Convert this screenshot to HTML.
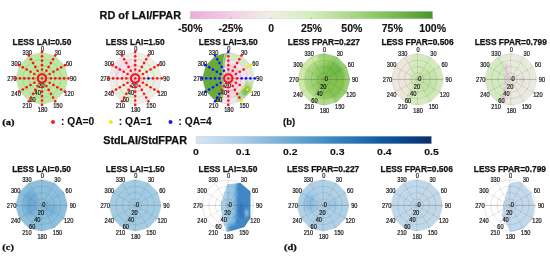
<!DOCTYPE html><html><head><meta charset="utf-8"><style>html,body{margin:0;padding:0;background:#fff;width:550px;height:256px;overflow:hidden}svg{display:block;filter:blur(0.3px)}</style></head><body><svg width="550" height="256" viewBox="0 0 550 256"><defs><filter id="b05" x="-50%" y="-50%" width="200%" height="200%"><feGaussianBlur stdDeviation="0.5"/></filter><filter id="b1" x="-50%" y="-50%" width="200%" height="200%"><feGaussianBlur stdDeviation="1.0"/></filter><filter id="b15" x="-50%" y="-50%" width="200%" height="200%"><feGaussianBlur stdDeviation="1.5"/></filter><filter id="b2" x="-50%" y="-50%" width="200%" height="200%"><feGaussianBlur stdDeviation="2.0"/></filter><filter id="b3" x="-50%" y="-50%" width="200%" height="200%"><feGaussianBlur stdDeviation="3.0"/></filter><linearGradient id="cb1" x1="0" x2="1" y1="0" y2="0"><stop offset="0" stop-color="#eeacd8"/><stop offset="0.167" stop-color="#f4cce6"/><stop offset="0.333" stop-color="#f0f0e4"/><stop offset="0.5" stop-color="#d4eebc"/><stop offset="0.667" stop-color="#aad886"/><stop offset="0.833" stop-color="#7cbc50"/><stop offset="1" stop-color="#4a9628"/></linearGradient><linearGradient id="cb2" x1="0" x2="1" y1="0" y2="0"><stop offset="0" stop-color="#d6e6f3"/><stop offset="0.2" stop-color="#a9cbe6"/><stop offset="0.4" stop-color="#6aaad6"/><stop offset="0.6" stop-color="#3484c0"/><stop offset="0.8" stop-color="#0c58a0"/><stop offset="1" stop-color="#0a2f6a"/></linearGradient><clipPath id="cp0"><polygon points="42.00,52.50 54.95,55.97 64.43,65.45 67.90,78.40 64.43,91.35 54.95,100.83 42.00,104.30 29.05,100.83 19.57,91.35 16.10,78.40 19.57,65.45 29.05,55.97"/></clipPath><clipPath id="cp1"><polygon points="135.20,52.50 148.15,55.97 157.63,65.45 161.10,78.40 157.63,91.35 148.15,100.83 135.20,104.30 122.25,100.83 112.77,91.35 109.30,78.40 112.77,65.45 122.25,55.97"/></clipPath><clipPath id="cp2"><polygon points="228.30,52.50 241.25,55.97 250.73,65.45 254.20,78.40 250.73,91.35 241.25,100.83 228.30,104.30 215.35,100.83 205.87,91.35 202.40,78.40 205.87,65.45 215.35,55.97"/></clipPath><clipPath id="cp3"><polygon points="323.90,53.50 336.85,56.97 346.33,66.45 349.80,79.40 346.33,92.35 336.85,101.83 323.90,105.30 310.95,101.83 301.47,92.35 298.00,79.40 301.47,66.45 310.95,56.97"/></clipPath><clipPath id="cp4"><polygon points="417.50,53.50 430.45,56.97 439.93,66.45 443.40,79.40 439.93,92.35 430.45,101.83 417.50,105.30 404.55,101.83 395.07,92.35 391.60,79.40 395.07,66.45 404.55,56.97"/></clipPath><clipPath id="cp5"><polygon points="510.80,53.50 523.75,56.97 533.23,66.45 536.70,79.40 533.23,92.35 523.75,101.83 510.80,105.30 497.85,101.83 488.37,92.35 484.90,79.40 488.37,66.45 497.85,56.97"/></clipPath><clipPath id="cp6"><polygon points="41.60,179.50 54.55,182.97 64.03,192.45 67.50,205.40 64.03,218.35 54.55,227.83 41.60,231.30 28.65,227.83 19.17,218.35 15.70,205.40 19.17,192.45 28.65,182.97"/></clipPath><clipPath id="cp7"><polygon points="135.20,179.50 148.15,182.97 157.63,192.45 161.10,205.40 157.63,218.35 148.15,227.83 135.20,231.30 122.25,227.83 112.77,218.35 109.30,205.40 112.77,192.45 122.25,182.97"/></clipPath><clipPath id="cp8"><polygon points="228.00,179.50 240.95,182.97 250.43,192.45 253.90,205.40 250.43,218.35 240.95,227.83 228.00,231.30 215.05,227.83 205.57,218.35 202.10,205.40 205.57,192.45 215.05,182.97"/></clipPath><clipPath id="cp9"><polygon points="323.10,179.50 336.05,182.97 345.53,192.45 349.00,205.40 345.53,218.35 336.05,227.83 323.10,231.30 310.15,227.83 300.67,218.35 297.20,205.40 300.67,192.45 310.15,182.97"/></clipPath><clipPath id="cp10"><polygon points="416.70,179.50 429.65,182.97 439.13,192.45 442.60,205.40 439.13,218.35 429.65,227.83 416.70,231.30 403.75,227.83 394.27,218.35 390.80,205.40 394.27,192.45 403.75,182.97"/></clipPath><clipPath id="cp11"><polygon points="509.90,179.50 522.85,182.97 532.33,192.45 535.80,205.40 532.33,218.35 522.85,227.83 509.90,231.30 496.95,227.83 487.47,218.35 484.00,205.40 487.47,192.45 496.95,182.97"/></clipPath></defs><rect width="550" height="256" fill="#fff"/><text x="99.6" y="18.6" font-size="10.9" font-weight="bold" stroke="#111" stroke-width="0.25" font-family="Liberation Sans, sans-serif" fill="#111">RD of LAI/FPAR</text><rect x="190.3" y="11.3" width="242.3" height="7.5" fill="url(#cb1)" stroke="#c8c8c8" stroke-width="0.3"/><line x1="190.30" y1="18.7" x2="190.30" y2="17.4" stroke="#555" stroke-width="0.4"/><text x="190.30" y="31.7" text-anchor="middle" font-size="10.5" font-weight="bold" stroke="#111" stroke-width="0.12" font-family="Liberation Sans, sans-serif" fill="#111">-50%</text><line x1="230.68" y1="18.7" x2="230.68" y2="17.4" stroke="#555" stroke-width="0.4"/><text x="230.68" y="31.7" text-anchor="middle" font-size="10.5" font-weight="bold" stroke="#111" stroke-width="0.12" font-family="Liberation Sans, sans-serif" fill="#111">-25%</text><line x1="271.07" y1="18.7" x2="271.07" y2="17.4" stroke="#555" stroke-width="0.4"/><text x="271.07" y="31.7" text-anchor="middle" font-size="10.5" font-weight="bold" stroke="#111" stroke-width="0.12" font-family="Liberation Sans, sans-serif" fill="#111">0</text><line x1="311.45" y1="18.7" x2="311.45" y2="17.4" stroke="#555" stroke-width="0.4"/><text x="311.45" y="31.7" text-anchor="middle" font-size="10.5" font-weight="bold" stroke="#111" stroke-width="0.12" font-family="Liberation Sans, sans-serif" fill="#111">25%</text><line x1="351.83" y1="18.7" x2="351.83" y2="17.4" stroke="#555" stroke-width="0.4"/><text x="351.83" y="31.7" text-anchor="middle" font-size="10.5" font-weight="bold" stroke="#111" stroke-width="0.12" font-family="Liberation Sans, sans-serif" fill="#111">50%</text><line x1="392.22" y1="18.7" x2="392.22" y2="17.4" stroke="#555" stroke-width="0.4"/><text x="392.22" y="31.7" text-anchor="middle" font-size="10.5" font-weight="bold" stroke="#111" stroke-width="0.12" font-family="Liberation Sans, sans-serif" fill="#111">75%</text><line x1="432.60" y1="18.7" x2="432.60" y2="17.4" stroke="#555" stroke-width="0.4"/><text x="432.60" y="31.7" text-anchor="middle" font-size="10.5" font-weight="bold" stroke="#111" stroke-width="0.12" font-family="Liberation Sans, sans-serif" fill="#111">100%</text><text x="103.2" y="143.8" font-size="10.8" font-weight="bold" stroke="#111" stroke-width="0.25" font-family="Liberation Sans, sans-serif" fill="#111">StdLAI/StdFPAR</text><rect x="196" y="136.2" width="235.5" height="7.6" fill="url(#cb2)" stroke="#c8c8c8" stroke-width="0.3"/><text x="196.00" y="0" transform="translate(0 155.2) scale(1 0.83)" text-anchor="middle" font-size="10.5" font-weight="bold" stroke="#111" stroke-width="0.12" font-family="Liberation Sans, sans-serif" fill="#111">0</text><text x="243.10" y="0" transform="translate(0 155.2) scale(1 0.83)" text-anchor="middle" font-size="10.5" font-weight="bold" stroke="#111" stroke-width="0.12" font-family="Liberation Sans, sans-serif" fill="#111">0.1</text><text x="290.20" y="0" transform="translate(0 155.2) scale(1 0.83)" text-anchor="middle" font-size="10.5" font-weight="bold" stroke="#111" stroke-width="0.12" font-family="Liberation Sans, sans-serif" fill="#111">0.2</text><text x="337.30" y="0" transform="translate(0 155.2) scale(1 0.83)" text-anchor="middle" font-size="10.5" font-weight="bold" stroke="#111" stroke-width="0.12" font-family="Liberation Sans, sans-serif" fill="#111">0.3</text><text x="384.40" y="0" transform="translate(0 155.2) scale(1 0.83)" text-anchor="middle" font-size="10.5" font-weight="bold" stroke="#111" stroke-width="0.12" font-family="Liberation Sans, sans-serif" fill="#111">0.4</text><text x="431.50" y="0" transform="translate(0 155.2) scale(1 0.83)" text-anchor="middle" font-size="10.5" font-weight="bold" stroke="#111" stroke-width="0.12" font-family="Liberation Sans, sans-serif" fill="#111">0.5</text><text transform="translate(2.3 124.6) scale(1.05 0.9)" x="0" y="0" font-size="10" font-weight="bold" stroke="#111" stroke-width="0.3" font-family="Liberation Serif, serif" fill="#111">(a)</text><text transform="translate(2.3 249.9) scale(1.05 0.9)" x="0" y="0" font-size="10" font-weight="bold" stroke="#111" stroke-width="0.3" font-family="Liberation Serif, serif" fill="#111">(c)</text><text transform="translate(284 249.9) scale(1.05 0.9)" x="0" y="0" font-size="10" font-weight="bold" stroke="#111" stroke-width="0.3" font-family="Liberation Serif, serif" fill="#111">(d)</text><text x="283" y="125.0" font-size="9.6" font-weight="bold" stroke="#111" stroke-width="0.15" font-family="Liberation Sans, sans-serif" fill="#111">(b)</text><circle cx="53" cy="122" r="2.0" fill="#ff1a1a"/><text x="61" y="125.4" font-size="10.2" font-weight="bold" stroke="#111" stroke-width="0.12" font-family="Liberation Sans, sans-serif" fill="#111">: QA=0</text><circle cx="110.8" cy="122" r="2.0" fill="#f2f000"/><text x="118.8" y="125.4" font-size="10.2" font-weight="bold" stroke="#111" stroke-width="0.12" font-family="Liberation Sans, sans-serif" fill="#111">: QA=1</text><circle cx="170.5" cy="122" r="2.0" fill="#1a1aff"/><text x="178.5" y="125.4" font-size="10.2" font-weight="bold" stroke="#111" stroke-width="0.12" font-family="Liberation Sans, sans-serif" fill="#111">: QA=4</text><g clip-path="url(#cp0)"><rect x="12.0" y="48.400000000000006" width="60" height="60" fill="#bee7a2"/></g><g clip-path="url(#cp1)"><rect x="105.19999999999999" y="48.400000000000006" width="60" height="60" fill="#f0ece6"/><g filter="url(#b2)"><ellipse cx="125.19999999999999" cy="68.4" rx="12" ry="10" fill="#f5dfea"/><ellipse cx="147.2" cy="74.4" rx="10" ry="14" fill="#e8f0dc"/><ellipse cx="125.19999999999999" cy="94.4" rx="10" ry="8" fill="#e2f0d4"/><ellipse cx="137.2" cy="82.4" rx="6" ry="8" fill="#f4dde8"/></g></g><g clip-path="url(#cp2)"><rect x="198.3" y="48.400000000000006" width="60" height="60" fill="#f6e2ee"/><g filter="url(#b15)"><ellipse cx="231.3" cy="80.4" rx="8" ry="16" fill="#f2d2e6"/></g><g filter="url(#b1)"><path d="M228.30,48.40 A30,30 0 0 1 252.87,61.19 L244.68,66.93 A20,20 0 0 0 228.30,58.40 Z" fill="#d2eabc" /><path d="M252.87,61.19 A30,30 0 0 1 257.84,83.61 L249.97,82.22 A22,22 0 0 0 246.32,65.78 Z" fill="#dcedc8" /><path d="M258.01,82.58 A30,30 0 0 1 239.54,106.22 L234.67,94.16 A17,17 0 0 0 245.13,80.77 Z" fill="#c0e2a4" /></g><g filter="url(#b15)"><path d="M251.48,87.77 A25,25 0 0 1 245.03,96.98 L241.01,92.52 A19,19 0 0 0 245.92,85.52 Z" fill="#7cbc54" /></g><g filter="url(#b05)"><path d="M198.3,48.400000000000006 L225.3,48.400000000000006 L223.3,60.400000000000006 L221.3,78.4 L222.3,88.4 L219.3,108.4 L198.3,108.4 Z" fill="#66ac3a"/><path d="M225.3,48.400000000000006 L229.3,48.400000000000006 L225.3,60.400000000000006 L223.3,78.4 L224.3,88.4 L221.3,108.4 L219.3,108.4 L222.3,88.4 L221.3,78.4 L223.3,60.400000000000006 Z" fill="#9ccc7c"/></g></g><g clip-path="url(#cp3)"><rect x="293.9" y="49.400000000000006" width="60" height="60" fill="#a4d67c"/><g filter="url(#b3)"><ellipse cx="331.9" cy="80.4" rx="16" ry="20" fill="#84c450"/><ellipse cx="334.9" cy="70.4" rx="9" ry="9" fill="#70ba46"/></g><g filter="url(#b15)"><path d="M313.64,107.59 A30,30 0 0 1 316.14,50.42 L318.98,61.05 A19,19 0 0 0 317.40,97.25 Z" fill="#cdeaa4" /><path d="M336.58,106.59 A30,30 0 0 1 313.64,107.59 L317.06,98.19 A20,20 0 0 0 332.35,97.53 Z" fill="#b0dc88" /><path d="M316.14,50.42 A30,30 0 0 1 336.58,106.59 L333.41,99.79 A22.5,22.5 0 0 0 318.08,57.67 Z" fill="#9cd274" /></g></g><g clip-path="url(#cp4)"><rect x="387.5" y="49.400000000000006" width="60" height="60" fill="#d4ebbc"/><g filter="url(#b1)"><path d="M387.5,49.400000000000006 L411.5,49.400000000000006 L409.5,79.4 L406.5,109.4 L387.5,109.4 Z" fill="#ede6dc"/></g><g filter="url(#b3)"><ellipse cx="427.5" cy="81.4" rx="10" ry="14" fill="#c2e3a6"/></g></g><g clip-path="url(#cp5)"><rect x="480.8" y="49.400000000000006" width="60" height="60" fill="#ece9df"/><g filter="url(#b3)"><ellipse cx="522.8" cy="67.4" rx="12" ry="12" fill="#e6ecda"/><ellipse cx="508.8" cy="57.400000000000006" rx="8" ry="5" fill="#e8eedc"/></g><g filter="url(#b1)"><path d="M480.8,61.400000000000006 L498.8,57.400000000000006 L504.8,63.400000000000006 L505.8,79.4 L502.8,95.4 L500.8,109.4 L480.8,109.4 Z" fill="#d4eac0"/><path d="M504.8,63.400000000000006 L507.8,63.400000000000006 L508.8,79.4 L505.8,95.4 L503.8,103.4 L500.8,103.4 L502.8,95.4 L505.8,79.4 Z" fill="#e6c8da"/><path d="M480.8,49.400000000000006 L510.8,49.400000000000006 L506.8,57.400000000000006 L498.8,57.400000000000006 L480.8,61.400000000000006 Z" fill="#dfeacc"/><circle cx="521.8" cy="79.4" r="2.5" fill="#eacde0"/></g></g><g clip-path="url(#cp6)"><rect x="11.600000000000001" y="175.4" width="60" height="60" fill="#8cc0de"/><g filter="url(#b2)"><ellipse cx="30.6" cy="203.4" rx="7" ry="13" fill="#6eaad6"/><ellipse cx="50.6" cy="209.4" rx="7" ry="7" fill="#78b2da"/></g></g><g clip-path="url(#cp7)"><rect x="105.19999999999999" y="175.4" width="60" height="60" fill="#a2cbe4"/></g><clipPath id="c3p"><polygon points="227.3,184.6 240.2,183.0 250.3,191.6 250.3,218.0 244.3,226.9 227.0,232.0 222.5,220.0 220.8,204.0"/></clipPath><g clip-path="url(#c3p)"><rect x="198.0" y="175.4" width="60" height="60" fill="#78b2dc"/><g filter="url(#b1)"><path d="M215,178 L230,178 L226.5,196 L226,212 L227,225 L224,236 L215,236 Z" fill="#b4d6ee"/><path d="M230,178 L235,178 L234,200 L234,215 L229,225 L226.5,236 L224,236 L227,225 L226,212 L226.5,196 Z" fill="#9ac8e8"/><path d="M237,178 L256,178 L256,240 L236,240 L230,232 L236,222 L236.5,205 Z" fill="#4089c8"/><ellipse cx="241.5" cy="211" rx="3.5" ry="8" fill="#307cc2"/><ellipse cx="246.5" cy="213" rx="1.5" ry="4" fill="#8cc0e4"/><ellipse cx="233" cy="228" rx="5" ry="3" fill="#3f89c8"/></g></g><g clip-path="url(#cp9)"><rect x="293.1" y="175.4" width="60" height="60" fill="#aed1e8"/><g filter="url(#b2)"><ellipse cx="310.1" cy="202.4" rx="6" ry="9" fill="#8cbde0"/><ellipse cx="333.1" cy="204.4" rx="5" ry="5" fill="#9cc6e4"/></g></g><g clip-path="url(#cp10)"><rect x="386.7" y="175.4" width="60" height="60" fill="#c0d8ea"/></g><clipPath id="d3p"><polygon points="508.9,184.3 513.0,182.3 520.2,181.8 530.9,192.3 534.8,205.4 532.8,218.5 523.5,229.0 510.5,232.3 502.0,216.0 503.4,204.0"/></clipPath><g clip-path="url(#d3p)"><rect x="479.9" y="175.4" width="60" height="60" fill="#c2d9ec"/></g><circle cx="42.0" cy="78.4" r="6.35" fill="none" stroke="#555" stroke-opacity="0.5" stroke-width="0.4" stroke-dasharray="1.3 0.5"/><circle cx="42.0" cy="78.4" r="12.70" fill="none" stroke="#555" stroke-opacity="0.5" stroke-width="0.4" stroke-dasharray="1.3 0.5"/><circle cx="42.0" cy="78.4" r="19.05" fill="none" stroke="#555" stroke-opacity="0.5" stroke-width="0.4" stroke-dasharray="1.3 0.5"/><circle cx="42.0" cy="78.4" r="25.40" fill="none" stroke="#555" stroke-opacity="0.5" stroke-width="0.4" stroke-dasharray="1.3 0.5"/><line x1="42.00" y1="53.00" x2="42.00" y2="103.80" stroke="#555" stroke-opacity="0.5" stroke-width="0.4" stroke-dasharray="1.3 0.5"/><line x1="54.70" y1="56.40" x2="29.30" y2="100.40" stroke="#555" stroke-opacity="0.5" stroke-width="0.4" stroke-dasharray="1.3 0.5"/><line x1="64.00" y1="65.70" x2="20.00" y2="91.10" stroke="#555" stroke-opacity="0.5" stroke-width="0.4" stroke-dasharray="1.3 0.5"/><line x1="67.40" y1="78.40" x2="16.60" y2="78.40" stroke="#555" stroke-opacity="0.7" stroke-width="0.5"/><line x1="64.00" y1="91.10" x2="20.00" y2="65.70" stroke="#555" stroke-opacity="0.5" stroke-width="0.4" stroke-dasharray="1.3 0.5"/><line x1="54.70" y1="100.40" x2="29.30" y2="56.40" stroke="#555" stroke-opacity="0.5" stroke-width="0.4" stroke-dasharray="1.3 0.5"/><text transform="translate(42.60 50.50) scale(0.86 1)" text-anchor="middle" font-size="6.6" stroke="#1a1a1a" stroke-width="0.22" font-family="Liberation Sans, sans-serif" fill="#1a1a1a">0</text><text transform="translate(57.90 54.60) scale(0.86 1)" text-anchor="middle" font-size="6.6" stroke="#1a1a1a" stroke-width="0.22" font-family="Liberation Sans, sans-serif" fill="#1a1a1a">30</text><text transform="translate(69.10 65.80) scale(0.86 1)" text-anchor="middle" font-size="6.6" stroke="#1a1a1a" stroke-width="0.22" font-family="Liberation Sans, sans-serif" fill="#1a1a1a">60</text><text transform="translate(73.20 81.10) scale(0.86 1)" text-anchor="middle" font-size="6.6" stroke="#1a1a1a" stroke-width="0.22" font-family="Liberation Sans, sans-serif" fill="#1a1a1a">90</text><text transform="translate(69.10 96.40) scale(0.86 1)" text-anchor="middle" font-size="6.6" stroke="#1a1a1a" stroke-width="0.22" font-family="Liberation Sans, sans-serif" fill="#1a1a1a">120</text><text transform="translate(57.90 107.60) scale(0.86 1)" text-anchor="middle" font-size="6.6" stroke="#1a1a1a" stroke-width="0.22" font-family="Liberation Sans, sans-serif" fill="#1a1a1a">150</text><text transform="translate(42.60 111.70) scale(0.86 1)" text-anchor="middle" font-size="6.6" stroke="#1a1a1a" stroke-width="0.22" font-family="Liberation Sans, sans-serif" fill="#1a1a1a">180</text><text transform="translate(27.30 107.60) scale(0.86 1)" text-anchor="middle" font-size="6.6" stroke="#1a1a1a" stroke-width="0.22" font-family="Liberation Sans, sans-serif" fill="#1a1a1a">210</text><text transform="translate(16.10 96.40) scale(0.86 1)" text-anchor="middle" font-size="6.6" stroke="#1a1a1a" stroke-width="0.22" font-family="Liberation Sans, sans-serif" fill="#1a1a1a">240</text><text transform="translate(12.00 81.10) scale(0.86 1)" text-anchor="middle" font-size="6.6" stroke="#1a1a1a" stroke-width="0.22" font-family="Liberation Sans, sans-serif" fill="#1a1a1a">270</text><text transform="translate(16.10 65.80) scale(0.86 1)" text-anchor="middle" font-size="6.6" stroke="#1a1a1a" stroke-width="0.22" font-family="Liberation Sans, sans-serif" fill="#1a1a1a">300</text><text transform="translate(27.30 54.60) scale(0.86 1)" text-anchor="middle" font-size="6.6" stroke="#1a1a1a" stroke-width="0.22" font-family="Liberation Sans, sans-serif" fill="#1a1a1a">330</text><text x="42.00" y="45.00" text-anchor="middle" font-size="8.4" font-weight="bold" stroke="#111" stroke-width="0.25" font-family="Liberation Sans, sans-serif" fill="#111">LESS LAI=0.50</text><text transform="translate(41.40 87.70) scale(0.86 1)" text-anchor="middle" font-size="6.6" stroke="#1a1a1a" stroke-width="0.22" font-family="Liberation Sans, sans-serif" fill="#1a1a1a">20</text><text transform="translate(37.70 94.50) scale(0.86 1)" text-anchor="middle" font-size="6.6" stroke="#1a1a1a" stroke-width="0.22" font-family="Liberation Sans, sans-serif" fill="#1a1a1a">40</text><text transform="translate(32.60 102.10) scale(0.86 1)" text-anchor="middle" font-size="6.6" stroke="#1a1a1a" stroke-width="0.22" font-family="Liberation Sans, sans-serif" fill="#1a1a1a">60</text><circle cx="135.2" cy="78.4" r="6.35" fill="none" stroke="#555" stroke-opacity="0.5" stroke-width="0.4" stroke-dasharray="1.3 0.5"/><circle cx="135.2" cy="78.4" r="12.70" fill="none" stroke="#555" stroke-opacity="0.5" stroke-width="0.4" stroke-dasharray="1.3 0.5"/><circle cx="135.2" cy="78.4" r="19.05" fill="none" stroke="#555" stroke-opacity="0.5" stroke-width="0.4" stroke-dasharray="1.3 0.5"/><circle cx="135.2" cy="78.4" r="25.40" fill="none" stroke="#555" stroke-opacity="0.5" stroke-width="0.4" stroke-dasharray="1.3 0.5"/><line x1="135.20" y1="53.00" x2="135.20" y2="103.80" stroke="#555" stroke-opacity="0.5" stroke-width="0.4" stroke-dasharray="1.3 0.5"/><line x1="147.90" y1="56.40" x2="122.50" y2="100.40" stroke="#555" stroke-opacity="0.5" stroke-width="0.4" stroke-dasharray="1.3 0.5"/><line x1="157.20" y1="65.70" x2="113.20" y2="91.10" stroke="#555" stroke-opacity="0.5" stroke-width="0.4" stroke-dasharray="1.3 0.5"/><line x1="160.60" y1="78.40" x2="109.80" y2="78.40" stroke="#555" stroke-opacity="0.7" stroke-width="0.5"/><line x1="157.20" y1="91.10" x2="113.20" y2="65.70" stroke="#555" stroke-opacity="0.5" stroke-width="0.4" stroke-dasharray="1.3 0.5"/><line x1="147.90" y1="100.40" x2="122.50" y2="56.40" stroke="#555" stroke-opacity="0.5" stroke-width="0.4" stroke-dasharray="1.3 0.5"/><text transform="translate(135.80 50.50) scale(0.86 1)" text-anchor="middle" font-size="6.6" stroke="#1a1a1a" stroke-width="0.22" font-family="Liberation Sans, sans-serif" fill="#1a1a1a">0</text><text transform="translate(151.10 54.60) scale(0.86 1)" text-anchor="middle" font-size="6.6" stroke="#1a1a1a" stroke-width="0.22" font-family="Liberation Sans, sans-serif" fill="#1a1a1a">30</text><text transform="translate(162.30 65.80) scale(0.86 1)" text-anchor="middle" font-size="6.6" stroke="#1a1a1a" stroke-width="0.22" font-family="Liberation Sans, sans-serif" fill="#1a1a1a">60</text><text transform="translate(166.40 81.10) scale(0.86 1)" text-anchor="middle" font-size="6.6" stroke="#1a1a1a" stroke-width="0.22" font-family="Liberation Sans, sans-serif" fill="#1a1a1a">90</text><text transform="translate(162.30 96.40) scale(0.86 1)" text-anchor="middle" font-size="6.6" stroke="#1a1a1a" stroke-width="0.22" font-family="Liberation Sans, sans-serif" fill="#1a1a1a">120</text><text transform="translate(151.10 107.60) scale(0.86 1)" text-anchor="middle" font-size="6.6" stroke="#1a1a1a" stroke-width="0.22" font-family="Liberation Sans, sans-serif" fill="#1a1a1a">150</text><text transform="translate(135.80 111.70) scale(0.86 1)" text-anchor="middle" font-size="6.6" stroke="#1a1a1a" stroke-width="0.22" font-family="Liberation Sans, sans-serif" fill="#1a1a1a">180</text><text transform="translate(120.50 107.60) scale(0.86 1)" text-anchor="middle" font-size="6.6" stroke="#1a1a1a" stroke-width="0.22" font-family="Liberation Sans, sans-serif" fill="#1a1a1a">210</text><text transform="translate(109.30 96.40) scale(0.86 1)" text-anchor="middle" font-size="6.6" stroke="#1a1a1a" stroke-width="0.22" font-family="Liberation Sans, sans-serif" fill="#1a1a1a">240</text><text transform="translate(105.20 81.10) scale(0.86 1)" text-anchor="middle" font-size="6.6" stroke="#1a1a1a" stroke-width="0.22" font-family="Liberation Sans, sans-serif" fill="#1a1a1a">270</text><text transform="translate(109.30 65.80) scale(0.86 1)" text-anchor="middle" font-size="6.6" stroke="#1a1a1a" stroke-width="0.22" font-family="Liberation Sans, sans-serif" fill="#1a1a1a">300</text><text transform="translate(120.50 54.60) scale(0.86 1)" text-anchor="middle" font-size="6.6" stroke="#1a1a1a" stroke-width="0.22" font-family="Liberation Sans, sans-serif" fill="#1a1a1a">330</text><text x="135.20" y="45.00" text-anchor="middle" font-size="8.4" font-weight="bold" stroke="#111" stroke-width="0.25" font-family="Liberation Sans, sans-serif" fill="#111">LESS LAI=1.50</text><text transform="translate(134.60 87.70) scale(0.86 1)" text-anchor="middle" font-size="6.6" stroke="#1a1a1a" stroke-width="0.22" font-family="Liberation Sans, sans-serif" fill="#1a1a1a">20</text><text transform="translate(130.90 94.50) scale(0.86 1)" text-anchor="middle" font-size="6.6" stroke="#1a1a1a" stroke-width="0.22" font-family="Liberation Sans, sans-serif" fill="#1a1a1a">40</text><text transform="translate(125.80 102.10) scale(0.86 1)" text-anchor="middle" font-size="6.6" stroke="#1a1a1a" stroke-width="0.22" font-family="Liberation Sans, sans-serif" fill="#1a1a1a">60</text><circle cx="228.3" cy="78.4" r="6.35" fill="none" stroke="#555" stroke-opacity="0.5" stroke-width="0.4" stroke-dasharray="1.3 0.5"/><circle cx="228.3" cy="78.4" r="12.70" fill="none" stroke="#555" stroke-opacity="0.5" stroke-width="0.4" stroke-dasharray="1.3 0.5"/><circle cx="228.3" cy="78.4" r="19.05" fill="none" stroke="#555" stroke-opacity="0.5" stroke-width="0.4" stroke-dasharray="1.3 0.5"/><circle cx="228.3" cy="78.4" r="25.40" fill="none" stroke="#555" stroke-opacity="0.5" stroke-width="0.4" stroke-dasharray="1.3 0.5"/><line x1="228.30" y1="53.00" x2="228.30" y2="103.80" stroke="#555" stroke-opacity="0.5" stroke-width="0.4" stroke-dasharray="1.3 0.5"/><line x1="241.00" y1="56.40" x2="215.60" y2="100.40" stroke="#555" stroke-opacity="0.5" stroke-width="0.4" stroke-dasharray="1.3 0.5"/><line x1="250.30" y1="65.70" x2="206.30" y2="91.10" stroke="#555" stroke-opacity="0.5" stroke-width="0.4" stroke-dasharray="1.3 0.5"/><line x1="253.70" y1="78.40" x2="202.90" y2="78.40" stroke="#555" stroke-opacity="0.7" stroke-width="0.5"/><line x1="250.30" y1="91.10" x2="206.30" y2="65.70" stroke="#555" stroke-opacity="0.5" stroke-width="0.4" stroke-dasharray="1.3 0.5"/><line x1="241.00" y1="100.40" x2="215.60" y2="56.40" stroke="#555" stroke-opacity="0.5" stroke-width="0.4" stroke-dasharray="1.3 0.5"/><text transform="translate(228.90 50.50) scale(0.86 1)" text-anchor="middle" font-size="6.6" stroke="#1a1a1a" stroke-width="0.22" font-family="Liberation Sans, sans-serif" fill="#1a1a1a">0</text><text transform="translate(244.20 54.60) scale(0.86 1)" text-anchor="middle" font-size="6.6" stroke="#1a1a1a" stroke-width="0.22" font-family="Liberation Sans, sans-serif" fill="#1a1a1a">30</text><text transform="translate(255.40 65.80) scale(0.86 1)" text-anchor="middle" font-size="6.6" stroke="#1a1a1a" stroke-width="0.22" font-family="Liberation Sans, sans-serif" fill="#1a1a1a">60</text><text transform="translate(259.50 81.10) scale(0.86 1)" text-anchor="middle" font-size="6.6" stroke="#1a1a1a" stroke-width="0.22" font-family="Liberation Sans, sans-serif" fill="#1a1a1a">90</text><text transform="translate(255.40 96.40) scale(0.86 1)" text-anchor="middle" font-size="6.6" stroke="#1a1a1a" stroke-width="0.22" font-family="Liberation Sans, sans-serif" fill="#1a1a1a">120</text><text transform="translate(244.20 107.60) scale(0.86 1)" text-anchor="middle" font-size="6.6" stroke="#1a1a1a" stroke-width="0.22" font-family="Liberation Sans, sans-serif" fill="#1a1a1a">150</text><text transform="translate(228.90 111.70) scale(0.86 1)" text-anchor="middle" font-size="6.6" stroke="#1a1a1a" stroke-width="0.22" font-family="Liberation Sans, sans-serif" fill="#1a1a1a">180</text><text transform="translate(213.60 107.60) scale(0.86 1)" text-anchor="middle" font-size="6.6" stroke="#1a1a1a" stroke-width="0.22" font-family="Liberation Sans, sans-serif" fill="#1a1a1a">210</text><text transform="translate(202.40 96.40) scale(0.86 1)" text-anchor="middle" font-size="6.6" stroke="#1a1a1a" stroke-width="0.22" font-family="Liberation Sans, sans-serif" fill="#1a1a1a">240</text><text transform="translate(198.30 81.10) scale(0.86 1)" text-anchor="middle" font-size="6.6" stroke="#1a1a1a" stroke-width="0.22" font-family="Liberation Sans, sans-serif" fill="#1a1a1a">270</text><text transform="translate(202.40 65.80) scale(0.86 1)" text-anchor="middle" font-size="6.6" stroke="#1a1a1a" stroke-width="0.22" font-family="Liberation Sans, sans-serif" fill="#1a1a1a">300</text><text transform="translate(213.60 54.60) scale(0.86 1)" text-anchor="middle" font-size="6.6" stroke="#1a1a1a" stroke-width="0.22" font-family="Liberation Sans, sans-serif" fill="#1a1a1a">330</text><text x="228.30" y="45.00" text-anchor="middle" font-size="8.4" font-weight="bold" stroke="#111" stroke-width="0.25" font-family="Liberation Sans, sans-serif" fill="#111">LESS LAI=3.50</text><text transform="translate(227.70 87.70) scale(0.86 1)" text-anchor="middle" font-size="6.6" stroke="#1a1a1a" stroke-width="0.22" font-family="Liberation Sans, sans-serif" fill="#1a1a1a">20</text><text transform="translate(224.00 94.50) scale(0.86 1)" text-anchor="middle" font-size="6.6" stroke="#1a1a1a" stroke-width="0.22" font-family="Liberation Sans, sans-serif" fill="#1a1a1a">40</text><text transform="translate(218.90 102.10) scale(0.86 1)" text-anchor="middle" font-size="6.6" stroke="#1a1a1a" stroke-width="0.22" font-family="Liberation Sans, sans-serif" fill="#1a1a1a">60</text><circle cx="323.9" cy="79.4" r="6.35" fill="none" stroke="#555" stroke-opacity="0.5" stroke-width="0.4" stroke-dasharray="1.3 0.5"/><circle cx="323.9" cy="79.4" r="12.70" fill="none" stroke="#555" stroke-opacity="0.5" stroke-width="0.4" stroke-dasharray="1.3 0.5"/><circle cx="323.9" cy="79.4" r="19.05" fill="none" stroke="#555" stroke-opacity="0.5" stroke-width="0.4" stroke-dasharray="1.3 0.5"/><circle cx="323.9" cy="79.4" r="25.40" fill="none" stroke="#555" stroke-opacity="0.5" stroke-width="0.4" stroke-dasharray="1.3 0.5"/><line x1="323.90" y1="54.00" x2="323.90" y2="104.80" stroke="#555" stroke-opacity="0.5" stroke-width="0.4" stroke-dasharray="1.3 0.5"/><line x1="336.60" y1="57.40" x2="311.20" y2="101.40" stroke="#555" stroke-opacity="0.5" stroke-width="0.4" stroke-dasharray="1.3 0.5"/><line x1="345.90" y1="66.70" x2="301.90" y2="92.10" stroke="#555" stroke-opacity="0.5" stroke-width="0.4" stroke-dasharray="1.3 0.5"/><line x1="349.30" y1="79.40" x2="298.50" y2="79.40" stroke="#555" stroke-opacity="0.7" stroke-width="0.5"/><line x1="345.90" y1="92.10" x2="301.90" y2="66.70" stroke="#555" stroke-opacity="0.5" stroke-width="0.4" stroke-dasharray="1.3 0.5"/><line x1="336.60" y1="101.40" x2="311.20" y2="57.40" stroke="#555" stroke-opacity="0.5" stroke-width="0.4" stroke-dasharray="1.3 0.5"/><text transform="translate(324.50 51.50) scale(0.86 1)" text-anchor="middle" font-size="6.6" stroke="#1a1a1a" stroke-width="0.22" font-family="Liberation Sans, sans-serif" fill="#1a1a1a">0</text><text transform="translate(339.80 55.60) scale(0.86 1)" text-anchor="middle" font-size="6.6" stroke="#1a1a1a" stroke-width="0.22" font-family="Liberation Sans, sans-serif" fill="#1a1a1a">30</text><text transform="translate(351.00 66.80) scale(0.86 1)" text-anchor="middle" font-size="6.6" stroke="#1a1a1a" stroke-width="0.22" font-family="Liberation Sans, sans-serif" fill="#1a1a1a">60</text><text transform="translate(355.10 82.10) scale(0.86 1)" text-anchor="middle" font-size="6.6" stroke="#1a1a1a" stroke-width="0.22" font-family="Liberation Sans, sans-serif" fill="#1a1a1a">90</text><text transform="translate(351.00 97.40) scale(0.86 1)" text-anchor="middle" font-size="6.6" stroke="#1a1a1a" stroke-width="0.22" font-family="Liberation Sans, sans-serif" fill="#1a1a1a">120</text><text transform="translate(339.80 108.60) scale(0.86 1)" text-anchor="middle" font-size="6.6" stroke="#1a1a1a" stroke-width="0.22" font-family="Liberation Sans, sans-serif" fill="#1a1a1a">150</text><text transform="translate(324.50 112.70) scale(0.86 1)" text-anchor="middle" font-size="6.6" stroke="#1a1a1a" stroke-width="0.22" font-family="Liberation Sans, sans-serif" fill="#1a1a1a">180</text><text transform="translate(309.20 108.60) scale(0.86 1)" text-anchor="middle" font-size="6.6" stroke="#1a1a1a" stroke-width="0.22" font-family="Liberation Sans, sans-serif" fill="#1a1a1a">210</text><text transform="translate(298.00 97.40) scale(0.86 1)" text-anchor="middle" font-size="6.6" stroke="#1a1a1a" stroke-width="0.22" font-family="Liberation Sans, sans-serif" fill="#1a1a1a">240</text><text transform="translate(293.90 82.10) scale(0.86 1)" text-anchor="middle" font-size="6.6" stroke="#1a1a1a" stroke-width="0.22" font-family="Liberation Sans, sans-serif" fill="#1a1a1a">270</text><text transform="translate(298.00 66.80) scale(0.86 1)" text-anchor="middle" font-size="6.6" stroke="#1a1a1a" stroke-width="0.22" font-family="Liberation Sans, sans-serif" fill="#1a1a1a">300</text><text transform="translate(309.20 55.60) scale(0.86 1)" text-anchor="middle" font-size="6.6" stroke="#1a1a1a" stroke-width="0.22" font-family="Liberation Sans, sans-serif" fill="#1a1a1a">330</text><text x="323.90" y="45.00" text-anchor="middle" font-size="8.4" font-weight="bold" stroke="#111" stroke-width="0.25" font-family="Liberation Sans, sans-serif" fill="#111">LESS FPAR=0.227</text><text transform="translate(326.20 80.90) scale(0.86 1)" text-anchor="middle" font-size="6.6" stroke="#1a1a1a" stroke-width="0.22" font-family="Liberation Sans, sans-serif" fill="#1a1a1a">0</text><text transform="translate(323.30 88.70) scale(0.86 1)" text-anchor="middle" font-size="6.6" stroke="#1a1a1a" stroke-width="0.22" font-family="Liberation Sans, sans-serif" fill="#1a1a1a">20</text><text transform="translate(319.60 95.50) scale(0.86 1)" text-anchor="middle" font-size="6.6" stroke="#1a1a1a" stroke-width="0.22" font-family="Liberation Sans, sans-serif" fill="#1a1a1a">40</text><text transform="translate(314.50 103.10) scale(0.86 1)" text-anchor="middle" font-size="6.6" stroke="#1a1a1a" stroke-width="0.22" font-family="Liberation Sans, sans-serif" fill="#1a1a1a">60</text><circle cx="417.5" cy="79.4" r="6.35" fill="none" stroke="#555" stroke-opacity="0.5" stroke-width="0.4" stroke-dasharray="1.3 0.5"/><circle cx="417.5" cy="79.4" r="12.70" fill="none" stroke="#555" stroke-opacity="0.5" stroke-width="0.4" stroke-dasharray="1.3 0.5"/><circle cx="417.5" cy="79.4" r="19.05" fill="none" stroke="#555" stroke-opacity="0.5" stroke-width="0.4" stroke-dasharray="1.3 0.5"/><circle cx="417.5" cy="79.4" r="25.40" fill="none" stroke="#555" stroke-opacity="0.5" stroke-width="0.4" stroke-dasharray="1.3 0.5"/><line x1="417.50" y1="54.00" x2="417.50" y2="104.80" stroke="#555" stroke-opacity="0.5" stroke-width="0.4" stroke-dasharray="1.3 0.5"/><line x1="430.20" y1="57.40" x2="404.80" y2="101.40" stroke="#555" stroke-opacity="0.5" stroke-width="0.4" stroke-dasharray="1.3 0.5"/><line x1="439.50" y1="66.70" x2="395.50" y2="92.10" stroke="#555" stroke-opacity="0.5" stroke-width="0.4" stroke-dasharray="1.3 0.5"/><line x1="442.90" y1="79.40" x2="392.10" y2="79.40" stroke="#555" stroke-opacity="0.7" stroke-width="0.5"/><line x1="439.50" y1="92.10" x2="395.50" y2="66.70" stroke="#555" stroke-opacity="0.5" stroke-width="0.4" stroke-dasharray="1.3 0.5"/><line x1="430.20" y1="101.40" x2="404.80" y2="57.40" stroke="#555" stroke-opacity="0.5" stroke-width="0.4" stroke-dasharray="1.3 0.5"/><text transform="translate(418.10 51.50) scale(0.86 1)" text-anchor="middle" font-size="6.6" stroke="#1a1a1a" stroke-width="0.22" font-family="Liberation Sans, sans-serif" fill="#1a1a1a">0</text><text transform="translate(433.40 55.60) scale(0.86 1)" text-anchor="middle" font-size="6.6" stroke="#1a1a1a" stroke-width="0.22" font-family="Liberation Sans, sans-serif" fill="#1a1a1a">30</text><text transform="translate(444.60 66.80) scale(0.86 1)" text-anchor="middle" font-size="6.6" stroke="#1a1a1a" stroke-width="0.22" font-family="Liberation Sans, sans-serif" fill="#1a1a1a">60</text><text transform="translate(448.70 82.10) scale(0.86 1)" text-anchor="middle" font-size="6.6" stroke="#1a1a1a" stroke-width="0.22" font-family="Liberation Sans, sans-serif" fill="#1a1a1a">90</text><text transform="translate(444.60 97.40) scale(0.86 1)" text-anchor="middle" font-size="6.6" stroke="#1a1a1a" stroke-width="0.22" font-family="Liberation Sans, sans-serif" fill="#1a1a1a">120</text><text transform="translate(433.40 108.60) scale(0.86 1)" text-anchor="middle" font-size="6.6" stroke="#1a1a1a" stroke-width="0.22" font-family="Liberation Sans, sans-serif" fill="#1a1a1a">150</text><text transform="translate(418.10 112.70) scale(0.86 1)" text-anchor="middle" font-size="6.6" stroke="#1a1a1a" stroke-width="0.22" font-family="Liberation Sans, sans-serif" fill="#1a1a1a">180</text><text transform="translate(402.80 108.60) scale(0.86 1)" text-anchor="middle" font-size="6.6" stroke="#1a1a1a" stroke-width="0.22" font-family="Liberation Sans, sans-serif" fill="#1a1a1a">210</text><text transform="translate(391.60 97.40) scale(0.86 1)" text-anchor="middle" font-size="6.6" stroke="#1a1a1a" stroke-width="0.22" font-family="Liberation Sans, sans-serif" fill="#1a1a1a">240</text><text transform="translate(387.50 82.10) scale(0.86 1)" text-anchor="middle" font-size="6.6" stroke="#1a1a1a" stroke-width="0.22" font-family="Liberation Sans, sans-serif" fill="#1a1a1a">270</text><text transform="translate(391.60 66.80) scale(0.86 1)" text-anchor="middle" font-size="6.6" stroke="#1a1a1a" stroke-width="0.22" font-family="Liberation Sans, sans-serif" fill="#1a1a1a">300</text><text transform="translate(402.80 55.60) scale(0.86 1)" text-anchor="middle" font-size="6.6" stroke="#1a1a1a" stroke-width="0.22" font-family="Liberation Sans, sans-serif" fill="#1a1a1a">330</text><text x="417.50" y="45.00" text-anchor="middle" font-size="8.4" font-weight="bold" stroke="#111" stroke-width="0.25" font-family="Liberation Sans, sans-serif" fill="#111">LESS FPAR=0.506</text><text transform="translate(419.80 80.90) scale(0.86 1)" text-anchor="middle" font-size="6.6" stroke="#1a1a1a" stroke-width="0.22" font-family="Liberation Sans, sans-serif" fill="#1a1a1a">0</text><text transform="translate(416.90 88.70) scale(0.86 1)" text-anchor="middle" font-size="6.6" stroke="#1a1a1a" stroke-width="0.22" font-family="Liberation Sans, sans-serif" fill="#1a1a1a">20</text><text transform="translate(413.20 95.50) scale(0.86 1)" text-anchor="middle" font-size="6.6" stroke="#1a1a1a" stroke-width="0.22" font-family="Liberation Sans, sans-serif" fill="#1a1a1a">40</text><text transform="translate(408.10 103.10) scale(0.86 1)" text-anchor="middle" font-size="6.6" stroke="#1a1a1a" stroke-width="0.22" font-family="Liberation Sans, sans-serif" fill="#1a1a1a">60</text><circle cx="510.8" cy="79.4" r="6.35" fill="none" stroke="#555" stroke-opacity="0.5" stroke-width="0.4" stroke-dasharray="1.3 0.5"/><circle cx="510.8" cy="79.4" r="12.70" fill="none" stroke="#555" stroke-opacity="0.5" stroke-width="0.4" stroke-dasharray="1.3 0.5"/><circle cx="510.8" cy="79.4" r="19.05" fill="none" stroke="#555" stroke-opacity="0.5" stroke-width="0.4" stroke-dasharray="1.3 0.5"/><circle cx="510.8" cy="79.4" r="25.40" fill="none" stroke="#555" stroke-opacity="0.5" stroke-width="0.4" stroke-dasharray="1.3 0.5"/><line x1="510.80" y1="54.00" x2="510.80" y2="104.80" stroke="#555" stroke-opacity="0.5" stroke-width="0.4" stroke-dasharray="1.3 0.5"/><line x1="523.50" y1="57.40" x2="498.10" y2="101.40" stroke="#555" stroke-opacity="0.5" stroke-width="0.4" stroke-dasharray="1.3 0.5"/><line x1="532.80" y1="66.70" x2="488.80" y2="92.10" stroke="#555" stroke-opacity="0.5" stroke-width="0.4" stroke-dasharray="1.3 0.5"/><line x1="536.20" y1="79.40" x2="485.40" y2="79.40" stroke="#555" stroke-opacity="0.7" stroke-width="0.5"/><line x1="532.80" y1="92.10" x2="488.80" y2="66.70" stroke="#555" stroke-opacity="0.5" stroke-width="0.4" stroke-dasharray="1.3 0.5"/><line x1="523.50" y1="101.40" x2="498.10" y2="57.40" stroke="#555" stroke-opacity="0.5" stroke-width="0.4" stroke-dasharray="1.3 0.5"/><text transform="translate(511.40 51.50) scale(0.86 1)" text-anchor="middle" font-size="6.6" stroke="#1a1a1a" stroke-width="0.22" font-family="Liberation Sans, sans-serif" fill="#1a1a1a">0</text><text transform="translate(526.70 55.60) scale(0.86 1)" text-anchor="middle" font-size="6.6" stroke="#1a1a1a" stroke-width="0.22" font-family="Liberation Sans, sans-serif" fill="#1a1a1a">30</text><text transform="translate(537.90 66.80) scale(0.86 1)" text-anchor="middle" font-size="6.6" stroke="#1a1a1a" stroke-width="0.22" font-family="Liberation Sans, sans-serif" fill="#1a1a1a">60</text><text transform="translate(542.00 82.10) scale(0.86 1)" text-anchor="middle" font-size="6.6" stroke="#1a1a1a" stroke-width="0.22" font-family="Liberation Sans, sans-serif" fill="#1a1a1a">90</text><text transform="translate(537.90 97.40) scale(0.86 1)" text-anchor="middle" font-size="6.6" stroke="#1a1a1a" stroke-width="0.22" font-family="Liberation Sans, sans-serif" fill="#1a1a1a">120</text><text transform="translate(526.70 108.60) scale(0.86 1)" text-anchor="middle" font-size="6.6" stroke="#1a1a1a" stroke-width="0.22" font-family="Liberation Sans, sans-serif" fill="#1a1a1a">150</text><text transform="translate(511.40 112.70) scale(0.86 1)" text-anchor="middle" font-size="6.6" stroke="#1a1a1a" stroke-width="0.22" font-family="Liberation Sans, sans-serif" fill="#1a1a1a">180</text><text transform="translate(496.10 108.60) scale(0.86 1)" text-anchor="middle" font-size="6.6" stroke="#1a1a1a" stroke-width="0.22" font-family="Liberation Sans, sans-serif" fill="#1a1a1a">210</text><text transform="translate(484.90 97.40) scale(0.86 1)" text-anchor="middle" font-size="6.6" stroke="#1a1a1a" stroke-width="0.22" font-family="Liberation Sans, sans-serif" fill="#1a1a1a">240</text><text transform="translate(480.80 82.10) scale(0.86 1)" text-anchor="middle" font-size="6.6" stroke="#1a1a1a" stroke-width="0.22" font-family="Liberation Sans, sans-serif" fill="#1a1a1a">270</text><text transform="translate(484.90 66.80) scale(0.86 1)" text-anchor="middle" font-size="6.6" stroke="#1a1a1a" stroke-width="0.22" font-family="Liberation Sans, sans-serif" fill="#1a1a1a">300</text><text transform="translate(496.10 55.60) scale(0.86 1)" text-anchor="middle" font-size="6.6" stroke="#1a1a1a" stroke-width="0.22" font-family="Liberation Sans, sans-serif" fill="#1a1a1a">330</text><text x="510.80" y="45.00" text-anchor="middle" font-size="8.4" font-weight="bold" stroke="#111" stroke-width="0.25" font-family="Liberation Sans, sans-serif" fill="#111">LESS FPAR=0.799</text><text transform="translate(513.10 80.90) scale(0.86 1)" text-anchor="middle" font-size="6.6" stroke="#1a1a1a" stroke-width="0.22" font-family="Liberation Sans, sans-serif" fill="#1a1a1a">0</text><text transform="translate(510.20 88.70) scale(0.86 1)" text-anchor="middle" font-size="6.6" stroke="#1a1a1a" stroke-width="0.22" font-family="Liberation Sans, sans-serif" fill="#1a1a1a">20</text><text transform="translate(506.50 95.50) scale(0.86 1)" text-anchor="middle" font-size="6.6" stroke="#1a1a1a" stroke-width="0.22" font-family="Liberation Sans, sans-serif" fill="#1a1a1a">40</text><text transform="translate(501.40 103.10) scale(0.86 1)" text-anchor="middle" font-size="6.6" stroke="#1a1a1a" stroke-width="0.22" font-family="Liberation Sans, sans-serif" fill="#1a1a1a">60</text><circle cx="41.6" cy="205.4" r="6.35" fill="none" stroke="#555" stroke-opacity="0.5" stroke-width="0.4" stroke-dasharray="1.3 0.5"/><circle cx="41.6" cy="205.4" r="12.70" fill="none" stroke="#555" stroke-opacity="0.5" stroke-width="0.4" stroke-dasharray="1.3 0.5"/><circle cx="41.6" cy="205.4" r="19.05" fill="none" stroke="#555" stroke-opacity="0.5" stroke-width="0.4" stroke-dasharray="1.3 0.5"/><circle cx="41.6" cy="205.4" r="25.40" fill="none" stroke="#555" stroke-opacity="0.5" stroke-width="0.4" stroke-dasharray="1.3 0.5"/><line x1="41.60" y1="180.00" x2="41.60" y2="230.80" stroke="#555" stroke-opacity="0.5" stroke-width="0.4" stroke-dasharray="1.3 0.5"/><line x1="54.30" y1="183.40" x2="28.90" y2="227.40" stroke="#555" stroke-opacity="0.5" stroke-width="0.4" stroke-dasharray="1.3 0.5"/><line x1="63.60" y1="192.70" x2="19.60" y2="218.10" stroke="#555" stroke-opacity="0.5" stroke-width="0.4" stroke-dasharray="1.3 0.5"/><line x1="67.00" y1="205.40" x2="16.20" y2="205.40" stroke="#555" stroke-opacity="0.5" stroke-width="0.5"/><line x1="63.60" y1="218.10" x2="19.60" y2="192.70" stroke="#555" stroke-opacity="0.5" stroke-width="0.4" stroke-dasharray="1.3 0.5"/><line x1="54.30" y1="227.40" x2="28.90" y2="183.40" stroke="#555" stroke-opacity="0.5" stroke-width="0.4" stroke-dasharray="1.3 0.5"/><text transform="translate(42.20 177.50) scale(0.86 1)" text-anchor="middle" font-size="6.6" stroke="#1a1a1a" stroke-width="0.22" font-family="Liberation Sans, sans-serif" fill="#1a1a1a">0</text><text transform="translate(57.50 181.60) scale(0.86 1)" text-anchor="middle" font-size="6.6" stroke="#1a1a1a" stroke-width="0.22" font-family="Liberation Sans, sans-serif" fill="#1a1a1a">30</text><text transform="translate(68.70 192.80) scale(0.86 1)" text-anchor="middle" font-size="6.6" stroke="#1a1a1a" stroke-width="0.22" font-family="Liberation Sans, sans-serif" fill="#1a1a1a">60</text><text transform="translate(72.80 208.10) scale(0.86 1)" text-anchor="middle" font-size="6.6" stroke="#1a1a1a" stroke-width="0.22" font-family="Liberation Sans, sans-serif" fill="#1a1a1a">90</text><text transform="translate(68.70 223.40) scale(0.86 1)" text-anchor="middle" font-size="6.6" stroke="#1a1a1a" stroke-width="0.22" font-family="Liberation Sans, sans-serif" fill="#1a1a1a">120</text><text transform="translate(57.50 234.60) scale(0.86 1)" text-anchor="middle" font-size="6.6" stroke="#1a1a1a" stroke-width="0.22" font-family="Liberation Sans, sans-serif" fill="#1a1a1a">150</text><text transform="translate(42.20 238.70) scale(0.86 1)" text-anchor="middle" font-size="6.6" stroke="#1a1a1a" stroke-width="0.22" font-family="Liberation Sans, sans-serif" fill="#1a1a1a">180</text><text transform="translate(26.90 234.60) scale(0.86 1)" text-anchor="middle" font-size="6.6" stroke="#1a1a1a" stroke-width="0.22" font-family="Liberation Sans, sans-serif" fill="#1a1a1a">210</text><text transform="translate(15.70 223.40) scale(0.86 1)" text-anchor="middle" font-size="6.6" stroke="#1a1a1a" stroke-width="0.22" font-family="Liberation Sans, sans-serif" fill="#1a1a1a">240</text><text transform="translate(11.60 208.10) scale(0.86 1)" text-anchor="middle" font-size="6.6" stroke="#1a1a1a" stroke-width="0.22" font-family="Liberation Sans, sans-serif" fill="#1a1a1a">270</text><text transform="translate(15.70 192.80) scale(0.86 1)" text-anchor="middle" font-size="6.6" stroke="#1a1a1a" stroke-width="0.22" font-family="Liberation Sans, sans-serif" fill="#1a1a1a">300</text><text transform="translate(26.90 181.60) scale(0.86 1)" text-anchor="middle" font-size="6.6" stroke="#1a1a1a" stroke-width="0.22" font-family="Liberation Sans, sans-serif" fill="#1a1a1a">330</text><text x="41.60" y="172.40" text-anchor="middle" font-size="8.4" font-weight="bold" stroke="#111" stroke-width="0.25" font-family="Liberation Sans, sans-serif" fill="#111">LESS LAI=0.50</text><text transform="translate(43.90 206.90) scale(0.86 1)" text-anchor="middle" font-size="6.6" stroke="#1a1a1a" stroke-width="0.22" font-family="Liberation Sans, sans-serif" fill="#1a1a1a">0</text><text transform="translate(41.00 214.70) scale(0.86 1)" text-anchor="middle" font-size="6.6" stroke="#1a1a1a" stroke-width="0.22" font-family="Liberation Sans, sans-serif" fill="#1a1a1a">20</text><text transform="translate(37.30 221.50) scale(0.86 1)" text-anchor="middle" font-size="6.6" stroke="#1a1a1a" stroke-width="0.22" font-family="Liberation Sans, sans-serif" fill="#1a1a1a">40</text><text transform="translate(32.20 229.10) scale(0.86 1)" text-anchor="middle" font-size="6.6" stroke="#1a1a1a" stroke-width="0.22" font-family="Liberation Sans, sans-serif" fill="#1a1a1a">60</text><circle cx="135.2" cy="205.4" r="6.35" fill="none" stroke="#555" stroke-opacity="0.5" stroke-width="0.4" stroke-dasharray="1.3 0.5"/><circle cx="135.2" cy="205.4" r="12.70" fill="none" stroke="#555" stroke-opacity="0.5" stroke-width="0.4" stroke-dasharray="1.3 0.5"/><circle cx="135.2" cy="205.4" r="19.05" fill="none" stroke="#555" stroke-opacity="0.5" stroke-width="0.4" stroke-dasharray="1.3 0.5"/><circle cx="135.2" cy="205.4" r="25.40" fill="none" stroke="#555" stroke-opacity="0.5" stroke-width="0.4" stroke-dasharray="1.3 0.5"/><line x1="135.20" y1="180.00" x2="135.20" y2="230.80" stroke="#555" stroke-opacity="0.5" stroke-width="0.4" stroke-dasharray="1.3 0.5"/><line x1="147.90" y1="183.40" x2="122.50" y2="227.40" stroke="#555" stroke-opacity="0.5" stroke-width="0.4" stroke-dasharray="1.3 0.5"/><line x1="157.20" y1="192.70" x2="113.20" y2="218.10" stroke="#555" stroke-opacity="0.5" stroke-width="0.4" stroke-dasharray="1.3 0.5"/><line x1="160.60" y1="205.40" x2="109.80" y2="205.40" stroke="#555" stroke-opacity="0.5" stroke-width="0.5"/><line x1="157.20" y1="218.10" x2="113.20" y2="192.70" stroke="#555" stroke-opacity="0.5" stroke-width="0.4" stroke-dasharray="1.3 0.5"/><line x1="147.90" y1="227.40" x2="122.50" y2="183.40" stroke="#555" stroke-opacity="0.5" stroke-width="0.4" stroke-dasharray="1.3 0.5"/><text transform="translate(135.80 177.50) scale(0.86 1)" text-anchor="middle" font-size="6.6" stroke="#1a1a1a" stroke-width="0.22" font-family="Liberation Sans, sans-serif" fill="#1a1a1a">0</text><text transform="translate(151.10 181.60) scale(0.86 1)" text-anchor="middle" font-size="6.6" stroke="#1a1a1a" stroke-width="0.22" font-family="Liberation Sans, sans-serif" fill="#1a1a1a">30</text><text transform="translate(162.30 192.80) scale(0.86 1)" text-anchor="middle" font-size="6.6" stroke="#1a1a1a" stroke-width="0.22" font-family="Liberation Sans, sans-serif" fill="#1a1a1a">60</text><text transform="translate(166.40 208.10) scale(0.86 1)" text-anchor="middle" font-size="6.6" stroke="#1a1a1a" stroke-width="0.22" font-family="Liberation Sans, sans-serif" fill="#1a1a1a">90</text><text transform="translate(162.30 223.40) scale(0.86 1)" text-anchor="middle" font-size="6.6" stroke="#1a1a1a" stroke-width="0.22" font-family="Liberation Sans, sans-serif" fill="#1a1a1a">120</text><text transform="translate(151.10 234.60) scale(0.86 1)" text-anchor="middle" font-size="6.6" stroke="#1a1a1a" stroke-width="0.22" font-family="Liberation Sans, sans-serif" fill="#1a1a1a">150</text><text transform="translate(135.80 238.70) scale(0.86 1)" text-anchor="middle" font-size="6.6" stroke="#1a1a1a" stroke-width="0.22" font-family="Liberation Sans, sans-serif" fill="#1a1a1a">180</text><text transform="translate(120.50 234.60) scale(0.86 1)" text-anchor="middle" font-size="6.6" stroke="#1a1a1a" stroke-width="0.22" font-family="Liberation Sans, sans-serif" fill="#1a1a1a">210</text><text transform="translate(109.30 223.40) scale(0.86 1)" text-anchor="middle" font-size="6.6" stroke="#1a1a1a" stroke-width="0.22" font-family="Liberation Sans, sans-serif" fill="#1a1a1a">240</text><text transform="translate(105.20 208.10) scale(0.86 1)" text-anchor="middle" font-size="6.6" stroke="#1a1a1a" stroke-width="0.22" font-family="Liberation Sans, sans-serif" fill="#1a1a1a">270</text><text transform="translate(109.30 192.80) scale(0.86 1)" text-anchor="middle" font-size="6.6" stroke="#1a1a1a" stroke-width="0.22" font-family="Liberation Sans, sans-serif" fill="#1a1a1a">300</text><text transform="translate(120.50 181.60) scale(0.86 1)" text-anchor="middle" font-size="6.6" stroke="#1a1a1a" stroke-width="0.22" font-family="Liberation Sans, sans-serif" fill="#1a1a1a">330</text><text x="135.20" y="172.40" text-anchor="middle" font-size="8.4" font-weight="bold" stroke="#111" stroke-width="0.25" font-family="Liberation Sans, sans-serif" fill="#111">LESS LAI=1.50</text><text transform="translate(137.50 206.90) scale(0.86 1)" text-anchor="middle" font-size="6.6" stroke="#1a1a1a" stroke-width="0.22" font-family="Liberation Sans, sans-serif" fill="#1a1a1a">0</text><text transform="translate(134.60 214.70) scale(0.86 1)" text-anchor="middle" font-size="6.6" stroke="#1a1a1a" stroke-width="0.22" font-family="Liberation Sans, sans-serif" fill="#1a1a1a">20</text><text transform="translate(130.90 221.50) scale(0.86 1)" text-anchor="middle" font-size="6.6" stroke="#1a1a1a" stroke-width="0.22" font-family="Liberation Sans, sans-serif" fill="#1a1a1a">40</text><text transform="translate(125.80 229.10) scale(0.86 1)" text-anchor="middle" font-size="6.6" stroke="#1a1a1a" stroke-width="0.22" font-family="Liberation Sans, sans-serif" fill="#1a1a1a">60</text><circle cx="228.0" cy="205.4" r="6.35" fill="none" stroke="#555" stroke-opacity="0.5" stroke-width="0.4" stroke-dasharray="1.3 0.5"/><circle cx="228.0" cy="205.4" r="12.70" fill="none" stroke="#555" stroke-opacity="0.5" stroke-width="0.4" stroke-dasharray="1.3 0.5"/><circle cx="228.0" cy="205.4" r="19.05" fill="none" stroke="#555" stroke-opacity="0.5" stroke-width="0.4" stroke-dasharray="1.3 0.5"/><circle cx="228.0" cy="205.4" r="25.40" fill="none" stroke="#555" stroke-opacity="0.5" stroke-width="0.4" stroke-dasharray="1.3 0.5"/><line x1="228.00" y1="180.00" x2="228.00" y2="230.80" stroke="#555" stroke-opacity="0.5" stroke-width="0.4" stroke-dasharray="1.3 0.5"/><line x1="240.70" y1="183.40" x2="215.30" y2="227.40" stroke="#555" stroke-opacity="0.5" stroke-width="0.4" stroke-dasharray="1.3 0.5"/><line x1="250.00" y1="192.70" x2="206.00" y2="218.10" stroke="#555" stroke-opacity="0.5" stroke-width="0.4" stroke-dasharray="1.3 0.5"/><line x1="253.40" y1="205.40" x2="202.60" y2="205.40" stroke="#555" stroke-opacity="0.5" stroke-width="0.5"/><line x1="250.00" y1="218.10" x2="206.00" y2="192.70" stroke="#555" stroke-opacity="0.5" stroke-width="0.4" stroke-dasharray="1.3 0.5"/><line x1="240.70" y1="227.40" x2="215.30" y2="183.40" stroke="#555" stroke-opacity="0.5" stroke-width="0.4" stroke-dasharray="1.3 0.5"/><text transform="translate(228.60 177.50) scale(0.86 1)" text-anchor="middle" font-size="6.6" stroke="#1a1a1a" stroke-width="0.22" font-family="Liberation Sans, sans-serif" fill="#1a1a1a">0</text><text transform="translate(243.90 181.60) scale(0.86 1)" text-anchor="middle" font-size="6.6" stroke="#1a1a1a" stroke-width="0.22" font-family="Liberation Sans, sans-serif" fill="#1a1a1a">30</text><text transform="translate(255.10 192.80) scale(0.86 1)" text-anchor="middle" font-size="6.6" stroke="#1a1a1a" stroke-width="0.22" font-family="Liberation Sans, sans-serif" fill="#1a1a1a">60</text><text transform="translate(259.20 208.10) scale(0.86 1)" text-anchor="middle" font-size="6.6" stroke="#1a1a1a" stroke-width="0.22" font-family="Liberation Sans, sans-serif" fill="#1a1a1a">90</text><text transform="translate(255.10 223.40) scale(0.86 1)" text-anchor="middle" font-size="6.6" stroke="#1a1a1a" stroke-width="0.22" font-family="Liberation Sans, sans-serif" fill="#1a1a1a">120</text><text transform="translate(243.90 234.60) scale(0.86 1)" text-anchor="middle" font-size="6.6" stroke="#1a1a1a" stroke-width="0.22" font-family="Liberation Sans, sans-serif" fill="#1a1a1a">150</text><text transform="translate(228.60 238.70) scale(0.86 1)" text-anchor="middle" font-size="6.6" stroke="#1a1a1a" stroke-width="0.22" font-family="Liberation Sans, sans-serif" fill="#1a1a1a">180</text><text transform="translate(213.30 234.60) scale(0.86 1)" text-anchor="middle" font-size="6.6" stroke="#1a1a1a" stroke-width="0.22" font-family="Liberation Sans, sans-serif" fill="#1a1a1a">210</text><text transform="translate(202.10 223.40) scale(0.86 1)" text-anchor="middle" font-size="6.6" stroke="#1a1a1a" stroke-width="0.22" font-family="Liberation Sans, sans-serif" fill="#1a1a1a">240</text><text transform="translate(198.00 208.10) scale(0.86 1)" text-anchor="middle" font-size="6.6" stroke="#1a1a1a" stroke-width="0.22" font-family="Liberation Sans, sans-serif" fill="#1a1a1a">270</text><text transform="translate(202.10 192.80) scale(0.86 1)" text-anchor="middle" font-size="6.6" stroke="#1a1a1a" stroke-width="0.22" font-family="Liberation Sans, sans-serif" fill="#1a1a1a">300</text><text transform="translate(213.30 181.60) scale(0.86 1)" text-anchor="middle" font-size="6.6" stroke="#1a1a1a" stroke-width="0.22" font-family="Liberation Sans, sans-serif" fill="#1a1a1a">330</text><text x="228.00" y="172.40" text-anchor="middle" font-size="8.4" font-weight="bold" stroke="#111" stroke-width="0.25" font-family="Liberation Sans, sans-serif" fill="#111">LESS LAI=3.50</text><text transform="translate(230.30 206.90) scale(0.86 1)" text-anchor="middle" font-size="6.6" stroke="#1a1a1a" stroke-width="0.22" font-family="Liberation Sans, sans-serif" fill="#1a1a1a">0</text><text transform="translate(227.40 214.70) scale(0.86 1)" text-anchor="middle" font-size="6.6" stroke="#1a1a1a" stroke-width="0.22" font-family="Liberation Sans, sans-serif" fill="#1a1a1a">20</text><text transform="translate(223.70 221.50) scale(0.86 1)" text-anchor="middle" font-size="6.6" stroke="#1a1a1a" stroke-width="0.22" font-family="Liberation Sans, sans-serif" fill="#1a1a1a">40</text><text transform="translate(218.60 229.10) scale(0.86 1)" text-anchor="middle" font-size="6.6" stroke="#1a1a1a" stroke-width="0.22" font-family="Liberation Sans, sans-serif" fill="#1a1a1a">60</text><circle cx="323.1" cy="205.4" r="6.35" fill="none" stroke="#555" stroke-opacity="0.5" stroke-width="0.4" stroke-dasharray="1.3 0.5"/><circle cx="323.1" cy="205.4" r="12.70" fill="none" stroke="#555" stroke-opacity="0.5" stroke-width="0.4" stroke-dasharray="1.3 0.5"/><circle cx="323.1" cy="205.4" r="19.05" fill="none" stroke="#555" stroke-opacity="0.5" stroke-width="0.4" stroke-dasharray="1.3 0.5"/><circle cx="323.1" cy="205.4" r="25.40" fill="none" stroke="#555" stroke-opacity="0.5" stroke-width="0.4" stroke-dasharray="1.3 0.5"/><line x1="323.10" y1="180.00" x2="323.10" y2="230.80" stroke="#555" stroke-opacity="0.5" stroke-width="0.4" stroke-dasharray="1.3 0.5"/><line x1="335.80" y1="183.40" x2="310.40" y2="227.40" stroke="#555" stroke-opacity="0.5" stroke-width="0.4" stroke-dasharray="1.3 0.5"/><line x1="345.10" y1="192.70" x2="301.10" y2="218.10" stroke="#555" stroke-opacity="0.5" stroke-width="0.4" stroke-dasharray="1.3 0.5"/><line x1="348.50" y1="205.40" x2="297.70" y2="205.40" stroke="#555" stroke-opacity="0.7" stroke-width="0.5"/><line x1="345.10" y1="218.10" x2="301.10" y2="192.70" stroke="#555" stroke-opacity="0.5" stroke-width="0.4" stroke-dasharray="1.3 0.5"/><line x1="335.80" y1="227.40" x2="310.40" y2="183.40" stroke="#555" stroke-opacity="0.5" stroke-width="0.4" stroke-dasharray="1.3 0.5"/><text transform="translate(323.70 177.50) scale(0.86 1)" text-anchor="middle" font-size="6.6" stroke="#1a1a1a" stroke-width="0.22" font-family="Liberation Sans, sans-serif" fill="#1a1a1a">0</text><text transform="translate(339.00 181.60) scale(0.86 1)" text-anchor="middle" font-size="6.6" stroke="#1a1a1a" stroke-width="0.22" font-family="Liberation Sans, sans-serif" fill="#1a1a1a">30</text><text transform="translate(350.20 192.80) scale(0.86 1)" text-anchor="middle" font-size="6.6" stroke="#1a1a1a" stroke-width="0.22" font-family="Liberation Sans, sans-serif" fill="#1a1a1a">60</text><text transform="translate(354.30 208.10) scale(0.86 1)" text-anchor="middle" font-size="6.6" stroke="#1a1a1a" stroke-width="0.22" font-family="Liberation Sans, sans-serif" fill="#1a1a1a">90</text><text transform="translate(350.20 223.40) scale(0.86 1)" text-anchor="middle" font-size="6.6" stroke="#1a1a1a" stroke-width="0.22" font-family="Liberation Sans, sans-serif" fill="#1a1a1a">120</text><text transform="translate(339.00 234.60) scale(0.86 1)" text-anchor="middle" font-size="6.6" stroke="#1a1a1a" stroke-width="0.22" font-family="Liberation Sans, sans-serif" fill="#1a1a1a">150</text><text transform="translate(323.70 238.70) scale(0.86 1)" text-anchor="middle" font-size="6.6" stroke="#1a1a1a" stroke-width="0.22" font-family="Liberation Sans, sans-serif" fill="#1a1a1a">180</text><text transform="translate(308.40 234.60) scale(0.86 1)" text-anchor="middle" font-size="6.6" stroke="#1a1a1a" stroke-width="0.22" font-family="Liberation Sans, sans-serif" fill="#1a1a1a">210</text><text transform="translate(297.20 223.40) scale(0.86 1)" text-anchor="middle" font-size="6.6" stroke="#1a1a1a" stroke-width="0.22" font-family="Liberation Sans, sans-serif" fill="#1a1a1a">240</text><text transform="translate(293.10 208.10) scale(0.86 1)" text-anchor="middle" font-size="6.6" stroke="#1a1a1a" stroke-width="0.22" font-family="Liberation Sans, sans-serif" fill="#1a1a1a">270</text><text transform="translate(297.20 192.80) scale(0.86 1)" text-anchor="middle" font-size="6.6" stroke="#1a1a1a" stroke-width="0.22" font-family="Liberation Sans, sans-serif" fill="#1a1a1a">300</text><text transform="translate(308.40 181.60) scale(0.86 1)" text-anchor="middle" font-size="6.6" stroke="#1a1a1a" stroke-width="0.22" font-family="Liberation Sans, sans-serif" fill="#1a1a1a">330</text><text x="323.10" y="172.40" text-anchor="middle" font-size="8.4" font-weight="bold" stroke="#111" stroke-width="0.25" font-family="Liberation Sans, sans-serif" fill="#111">LESS FPAR=0.227</text><text transform="translate(325.40 206.90) scale(0.86 1)" text-anchor="middle" font-size="6.6" stroke="#1a1a1a" stroke-width="0.22" font-family="Liberation Sans, sans-serif" fill="#1a1a1a">0</text><text transform="translate(322.50 214.70) scale(0.86 1)" text-anchor="middle" font-size="6.6" stroke="#1a1a1a" stroke-width="0.22" font-family="Liberation Sans, sans-serif" fill="#1a1a1a">20</text><text transform="translate(318.80 221.50) scale(0.86 1)" text-anchor="middle" font-size="6.6" stroke="#1a1a1a" stroke-width="0.22" font-family="Liberation Sans, sans-serif" fill="#1a1a1a">40</text><text transform="translate(313.70 229.10) scale(0.86 1)" text-anchor="middle" font-size="6.6" stroke="#1a1a1a" stroke-width="0.22" font-family="Liberation Sans, sans-serif" fill="#1a1a1a">60</text><circle cx="416.7" cy="205.4" r="6.35" fill="none" stroke="#555" stroke-opacity="0.5" stroke-width="0.4" stroke-dasharray="1.3 0.5"/><circle cx="416.7" cy="205.4" r="12.70" fill="none" stroke="#555" stroke-opacity="0.5" stroke-width="0.4" stroke-dasharray="1.3 0.5"/><circle cx="416.7" cy="205.4" r="19.05" fill="none" stroke="#555" stroke-opacity="0.5" stroke-width="0.4" stroke-dasharray="1.3 0.5"/><circle cx="416.7" cy="205.4" r="25.40" fill="none" stroke="#555" stroke-opacity="0.5" stroke-width="0.4" stroke-dasharray="1.3 0.5"/><line x1="416.70" y1="180.00" x2="416.70" y2="230.80" stroke="#555" stroke-opacity="0.5" stroke-width="0.4" stroke-dasharray="1.3 0.5"/><line x1="429.40" y1="183.40" x2="404.00" y2="227.40" stroke="#555" stroke-opacity="0.5" stroke-width="0.4" stroke-dasharray="1.3 0.5"/><line x1="438.70" y1="192.70" x2="394.70" y2="218.10" stroke="#555" stroke-opacity="0.5" stroke-width="0.4" stroke-dasharray="1.3 0.5"/><line x1="442.10" y1="205.40" x2="391.30" y2="205.40" stroke="#555" stroke-opacity="0.7" stroke-width="0.5"/><line x1="438.70" y1="218.10" x2="394.70" y2="192.70" stroke="#555" stroke-opacity="0.5" stroke-width="0.4" stroke-dasharray="1.3 0.5"/><line x1="429.40" y1="227.40" x2="404.00" y2="183.40" stroke="#555" stroke-opacity="0.5" stroke-width="0.4" stroke-dasharray="1.3 0.5"/><text transform="translate(417.30 177.50) scale(0.86 1)" text-anchor="middle" font-size="6.6" stroke="#1a1a1a" stroke-width="0.22" font-family="Liberation Sans, sans-serif" fill="#1a1a1a">0</text><text transform="translate(432.60 181.60) scale(0.86 1)" text-anchor="middle" font-size="6.6" stroke="#1a1a1a" stroke-width="0.22" font-family="Liberation Sans, sans-serif" fill="#1a1a1a">30</text><text transform="translate(443.80 192.80) scale(0.86 1)" text-anchor="middle" font-size="6.6" stroke="#1a1a1a" stroke-width="0.22" font-family="Liberation Sans, sans-serif" fill="#1a1a1a">60</text><text transform="translate(447.90 208.10) scale(0.86 1)" text-anchor="middle" font-size="6.6" stroke="#1a1a1a" stroke-width="0.22" font-family="Liberation Sans, sans-serif" fill="#1a1a1a">90</text><text transform="translate(443.80 223.40) scale(0.86 1)" text-anchor="middle" font-size="6.6" stroke="#1a1a1a" stroke-width="0.22" font-family="Liberation Sans, sans-serif" fill="#1a1a1a">120</text><text transform="translate(432.60 234.60) scale(0.86 1)" text-anchor="middle" font-size="6.6" stroke="#1a1a1a" stroke-width="0.22" font-family="Liberation Sans, sans-serif" fill="#1a1a1a">150</text><text transform="translate(417.30 238.70) scale(0.86 1)" text-anchor="middle" font-size="6.6" stroke="#1a1a1a" stroke-width="0.22" font-family="Liberation Sans, sans-serif" fill="#1a1a1a">180</text><text transform="translate(402.00 234.60) scale(0.86 1)" text-anchor="middle" font-size="6.6" stroke="#1a1a1a" stroke-width="0.22" font-family="Liberation Sans, sans-serif" fill="#1a1a1a">210</text><text transform="translate(390.80 223.40) scale(0.86 1)" text-anchor="middle" font-size="6.6" stroke="#1a1a1a" stroke-width="0.22" font-family="Liberation Sans, sans-serif" fill="#1a1a1a">240</text><text transform="translate(386.70 208.10) scale(0.86 1)" text-anchor="middle" font-size="6.6" stroke="#1a1a1a" stroke-width="0.22" font-family="Liberation Sans, sans-serif" fill="#1a1a1a">270</text><text transform="translate(390.80 192.80) scale(0.86 1)" text-anchor="middle" font-size="6.6" stroke="#1a1a1a" stroke-width="0.22" font-family="Liberation Sans, sans-serif" fill="#1a1a1a">300</text><text transform="translate(402.00 181.60) scale(0.86 1)" text-anchor="middle" font-size="6.6" stroke="#1a1a1a" stroke-width="0.22" font-family="Liberation Sans, sans-serif" fill="#1a1a1a">330</text><text x="416.70" y="172.40" text-anchor="middle" font-size="8.4" font-weight="bold" stroke="#111" stroke-width="0.25" font-family="Liberation Sans, sans-serif" fill="#111">LESS FPAR=0.506</text><text transform="translate(419.00 206.90) scale(0.86 1)" text-anchor="middle" font-size="6.6" stroke="#1a1a1a" stroke-width="0.22" font-family="Liberation Sans, sans-serif" fill="#1a1a1a">0</text><text transform="translate(416.10 214.70) scale(0.86 1)" text-anchor="middle" font-size="6.6" stroke="#1a1a1a" stroke-width="0.22" font-family="Liberation Sans, sans-serif" fill="#1a1a1a">20</text><text transform="translate(412.40 221.50) scale(0.86 1)" text-anchor="middle" font-size="6.6" stroke="#1a1a1a" stroke-width="0.22" font-family="Liberation Sans, sans-serif" fill="#1a1a1a">40</text><text transform="translate(407.30 229.10) scale(0.86 1)" text-anchor="middle" font-size="6.6" stroke="#1a1a1a" stroke-width="0.22" font-family="Liberation Sans, sans-serif" fill="#1a1a1a">60</text><circle cx="509.9" cy="205.4" r="6.35" fill="none" stroke="#555" stroke-opacity="0.5" stroke-width="0.4" stroke-dasharray="1.3 0.5"/><circle cx="509.9" cy="205.4" r="12.70" fill="none" stroke="#555" stroke-opacity="0.5" stroke-width="0.4" stroke-dasharray="1.3 0.5"/><circle cx="509.9" cy="205.4" r="19.05" fill="none" stroke="#555" stroke-opacity="0.5" stroke-width="0.4" stroke-dasharray="1.3 0.5"/><circle cx="509.9" cy="205.4" r="25.40" fill="none" stroke="#555" stroke-opacity="0.5" stroke-width="0.4" stroke-dasharray="1.3 0.5"/><line x1="509.90" y1="180.00" x2="509.90" y2="230.80" stroke="#555" stroke-opacity="0.5" stroke-width="0.4" stroke-dasharray="1.3 0.5"/><line x1="522.60" y1="183.40" x2="497.20" y2="227.40" stroke="#555" stroke-opacity="0.5" stroke-width="0.4" stroke-dasharray="1.3 0.5"/><line x1="531.90" y1="192.70" x2="487.90" y2="218.10" stroke="#555" stroke-opacity="0.5" stroke-width="0.4" stroke-dasharray="1.3 0.5"/><line x1="535.30" y1="205.40" x2="484.50" y2="205.40" stroke="#555" stroke-opacity="0.7" stroke-width="0.5"/><line x1="531.90" y1="218.10" x2="487.90" y2="192.70" stroke="#555" stroke-opacity="0.5" stroke-width="0.4" stroke-dasharray="1.3 0.5"/><line x1="522.60" y1="227.40" x2="497.20" y2="183.40" stroke="#555" stroke-opacity="0.5" stroke-width="0.4" stroke-dasharray="1.3 0.5"/><text transform="translate(510.50 177.50) scale(0.86 1)" text-anchor="middle" font-size="6.6" stroke="#1a1a1a" stroke-width="0.22" font-family="Liberation Sans, sans-serif" fill="#1a1a1a">0</text><text transform="translate(525.80 181.60) scale(0.86 1)" text-anchor="middle" font-size="6.6" stroke="#1a1a1a" stroke-width="0.22" font-family="Liberation Sans, sans-serif" fill="#1a1a1a">30</text><text transform="translate(537.00 192.80) scale(0.86 1)" text-anchor="middle" font-size="6.6" stroke="#1a1a1a" stroke-width="0.22" font-family="Liberation Sans, sans-serif" fill="#1a1a1a">60</text><text transform="translate(541.10 208.10) scale(0.86 1)" text-anchor="middle" font-size="6.6" stroke="#1a1a1a" stroke-width="0.22" font-family="Liberation Sans, sans-serif" fill="#1a1a1a">90</text><text transform="translate(537.00 223.40) scale(0.86 1)" text-anchor="middle" font-size="6.6" stroke="#1a1a1a" stroke-width="0.22" font-family="Liberation Sans, sans-serif" fill="#1a1a1a">120</text><text transform="translate(525.80 234.60) scale(0.86 1)" text-anchor="middle" font-size="6.6" stroke="#1a1a1a" stroke-width="0.22" font-family="Liberation Sans, sans-serif" fill="#1a1a1a">150</text><text transform="translate(510.50 238.70) scale(0.86 1)" text-anchor="middle" font-size="6.6" stroke="#1a1a1a" stroke-width="0.22" font-family="Liberation Sans, sans-serif" fill="#1a1a1a">180</text><text transform="translate(495.20 234.60) scale(0.86 1)" text-anchor="middle" font-size="6.6" stroke="#1a1a1a" stroke-width="0.22" font-family="Liberation Sans, sans-serif" fill="#1a1a1a">210</text><text transform="translate(484.00 223.40) scale(0.86 1)" text-anchor="middle" font-size="6.6" stroke="#1a1a1a" stroke-width="0.22" font-family="Liberation Sans, sans-serif" fill="#1a1a1a">240</text><text transform="translate(479.90 208.10) scale(0.86 1)" text-anchor="middle" font-size="6.6" stroke="#1a1a1a" stroke-width="0.22" font-family="Liberation Sans, sans-serif" fill="#1a1a1a">270</text><text transform="translate(484.00 192.80) scale(0.86 1)" text-anchor="middle" font-size="6.6" stroke="#1a1a1a" stroke-width="0.22" font-family="Liberation Sans, sans-serif" fill="#1a1a1a">300</text><text transform="translate(495.20 181.60) scale(0.86 1)" text-anchor="middle" font-size="6.6" stroke="#1a1a1a" stroke-width="0.22" font-family="Liberation Sans, sans-serif" fill="#1a1a1a">330</text><text x="509.90" y="172.40" text-anchor="middle" font-size="8.4" font-weight="bold" stroke="#111" stroke-width="0.25" font-family="Liberation Sans, sans-serif" fill="#111">LESS FPAR=0.799</text><text transform="translate(512.20 206.90) scale(0.86 1)" text-anchor="middle" font-size="6.6" stroke="#1a1a1a" stroke-width="0.22" font-family="Liberation Sans, sans-serif" fill="#1a1a1a">0</text><text transform="translate(509.30 214.70) scale(0.86 1)" text-anchor="middle" font-size="6.6" stroke="#1a1a1a" stroke-width="0.22" font-family="Liberation Sans, sans-serif" fill="#1a1a1a">20</text><text transform="translate(505.60 221.50) scale(0.86 1)" text-anchor="middle" font-size="6.6" stroke="#1a1a1a" stroke-width="0.22" font-family="Liberation Sans, sans-serif" fill="#1a1a1a">40</text><text transform="translate(500.50 229.10) scale(0.86 1)" text-anchor="middle" font-size="6.6" stroke="#1a1a1a" stroke-width="0.22" font-family="Liberation Sans, sans-serif" fill="#1a1a1a">60</text><circle cx="42.0" cy="78.4" r="4.2" fill="none" stroke="#ff1212" stroke-width="1.6"/><circle cx="42.0" cy="78.4" r="1.2" fill="#ff1212"/><circle cx="42.00" cy="74.20" r="1.05" fill="#ff1212"/><circle cx="43.61" cy="74.52" r="1.05" fill="#ff1212"/><circle cx="44.97" cy="75.43" r="1.05" fill="#ff1212"/><circle cx="45.88" cy="76.79" r="1.05" fill="#ff1212"/><circle cx="46.20" cy="78.40" r="1.05" fill="#ff1212"/><circle cx="45.88" cy="80.01" r="1.05" fill="#ff1212"/><circle cx="44.97" cy="81.37" r="1.05" fill="#ff1212"/><circle cx="43.61" cy="82.28" r="1.05" fill="#ff1212"/><circle cx="42.00" cy="82.60" r="1.05" fill="#ff1212"/><circle cx="40.39" cy="82.28" r="1.05" fill="#ff1212"/><circle cx="39.03" cy="81.37" r="1.05" fill="#ff1212"/><circle cx="38.12" cy="80.01" r="1.05" fill="#ff1212"/><circle cx="37.80" cy="78.40" r="1.05" fill="#ff1212"/><circle cx="38.12" cy="76.79" r="1.05" fill="#ff1212"/><circle cx="39.03" cy="75.43" r="1.05" fill="#ff1212"/><circle cx="40.39" cy="74.52" r="1.05" fill="#ff1212"/><circle cx="42.00" cy="69.56" r="1.3" fill="#ff1212"/><circle cx="42.00" cy="65.14" r="1.3" fill="#ff1212"/><circle cx="42.00" cy="60.72" r="1.3" fill="#ff1212"/><circle cx="42.00" cy="56.30" r="1.3" fill="#ff1212"/><circle cx="42.00" cy="51.88" r="1.3" fill="#ff1212"/><circle cx="46.42" cy="70.74" r="1.3" fill="#ff1212"/><circle cx="48.63" cy="66.92" r="1.3" fill="#ff1212"/><circle cx="50.84" cy="63.09" r="1.3" fill="#ff1212"/><circle cx="53.05" cy="59.26" r="1.3" fill="#ff1212"/><circle cx="55.26" cy="55.43" r="1.3" fill="#ff1212"/><circle cx="49.66" cy="73.98" r="1.3" fill="#ff1212"/><circle cx="53.48" cy="71.77" r="1.3" fill="#ff1212"/><circle cx="57.31" cy="69.56" r="1.3" fill="#ff1212"/><circle cx="61.14" cy="67.35" r="1.3" fill="#ff1212"/><circle cx="64.97" cy="65.14" r="1.3" fill="#ff1212"/><circle cx="50.84" cy="78.40" r="1.3" fill="#ff1212"/><circle cx="55.26" cy="78.40" r="1.3" fill="#ff1212"/><circle cx="59.68" cy="78.40" r="1.3" fill="#ff1212"/><circle cx="64.10" cy="78.40" r="1.3" fill="#ff1212"/><circle cx="68.52" cy="78.40" r="1.3" fill="#ff1212"/><circle cx="49.66" cy="82.82" r="1.3" fill="#ff1212"/><circle cx="53.48" cy="85.03" r="1.3" fill="#ff1212"/><circle cx="57.31" cy="87.24" r="1.3" fill="#ff1212"/><circle cx="61.14" cy="89.45" r="1.3" fill="#ff1212"/><circle cx="64.97" cy="91.66" r="1.3" fill="#ff1212"/><circle cx="46.42" cy="86.06" r="1.3" fill="#ff1212"/><circle cx="48.63" cy="89.88" r="1.3" fill="#ff1212"/><circle cx="50.84" cy="93.71" r="1.3" fill="#ff1212"/><circle cx="53.05" cy="97.54" r="1.3" fill="#ff1212"/><circle cx="55.26" cy="101.37" r="1.3" fill="#ff1212"/><circle cx="42.00" cy="87.24" r="1.3" fill="#ff1212"/><circle cx="42.00" cy="91.66" r="1.3" fill="#ff1212"/><circle cx="42.00" cy="96.08" r="1.3" fill="#ff1212"/><circle cx="42.00" cy="100.50" r="1.3" fill="#ff1212"/><circle cx="42.00" cy="104.92" r="1.3" fill="#ff1212"/><circle cx="37.58" cy="86.06" r="1.3" fill="#ff1212"/><circle cx="35.37" cy="89.88" r="1.3" fill="#ff1212"/><circle cx="33.16" cy="93.71" r="1.3" fill="#ff1212"/><circle cx="30.95" cy="97.54" r="1.3" fill="#ff1212"/><circle cx="28.74" cy="101.37" r="1.3" fill="#ff1212"/><circle cx="34.34" cy="82.82" r="1.3" fill="#ff1212"/><circle cx="30.52" cy="85.03" r="1.3" fill="#ff1212"/><circle cx="26.69" cy="87.24" r="1.3" fill="#ff1212"/><circle cx="22.86" cy="89.45" r="1.3" fill="#ff1212"/><circle cx="19.03" cy="91.66" r="1.3" fill="#ff1212"/><circle cx="33.16" cy="78.40" r="1.3" fill="#ff1212"/><circle cx="28.74" cy="78.40" r="1.3" fill="#ff1212"/><circle cx="24.32" cy="78.40" r="1.3" fill="#ff1212"/><circle cx="19.90" cy="78.40" r="1.3" fill="#ff1212"/><circle cx="15.48" cy="78.40" r="1.3" fill="#ff1212"/><circle cx="34.34" cy="73.98" r="1.3" fill="#ff1212"/><circle cx="30.52" cy="71.77" r="1.3" fill="#ff1212"/><circle cx="26.69" cy="69.56" r="1.3" fill="#ff1212"/><circle cx="22.86" cy="67.35" r="1.3" fill="#ff1212"/><circle cx="19.03" cy="65.14" r="1.3" fill="#ff1212"/><circle cx="37.58" cy="70.74" r="1.3" fill="#ff1212"/><circle cx="35.37" cy="66.92" r="1.3" fill="#ff1212"/><circle cx="33.16" cy="63.09" r="1.3" fill="#ff1212"/><circle cx="30.95" cy="59.26" r="1.3" fill="#ff1212"/><circle cx="28.74" cy="55.43" r="1.3" fill="#ff1212"/><circle cx="135.2" cy="78.4" r="4.2" fill="none" stroke="#ff1212" stroke-width="1.6"/><circle cx="135.2" cy="78.4" r="1.2" fill="#ff1212"/><circle cx="135.20" cy="74.20" r="1.05" fill="#ff1212"/><circle cx="136.81" cy="74.52" r="1.05" fill="#ff1212"/><circle cx="138.17" cy="75.43" r="1.05" fill="#ff1212"/><circle cx="139.08" cy="76.79" r="1.05" fill="#ff1212"/><circle cx="139.40" cy="78.40" r="1.05" fill="#ff1212"/><circle cx="139.08" cy="80.01" r="1.05" fill="#ff1212"/><circle cx="138.17" cy="81.37" r="1.05" fill="#ff1212"/><circle cx="136.81" cy="82.28" r="1.05" fill="#ff1212"/><circle cx="135.20" cy="82.60" r="1.05" fill="#ff1212"/><circle cx="133.59" cy="82.28" r="1.05" fill="#ff1212"/><circle cx="132.23" cy="81.37" r="1.05" fill="#ff1212"/><circle cx="131.32" cy="80.01" r="1.05" fill="#ff1212"/><circle cx="131.00" cy="78.40" r="1.05" fill="#ff1212"/><circle cx="131.32" cy="76.79" r="1.05" fill="#ff1212"/><circle cx="132.23" cy="75.43" r="1.05" fill="#ff1212"/><circle cx="133.59" cy="74.52" r="1.05" fill="#ff1212"/><circle cx="135.20" cy="69.56" r="1.3" fill="#ff1212"/><circle cx="135.20" cy="65.14" r="1.3" fill="#ff1212"/><circle cx="135.20" cy="60.72" r="1.3" fill="#ff1212"/><circle cx="135.20" cy="56.30" r="1.3" fill="#ff1212"/><circle cx="135.20" cy="51.88" r="1.3" fill="#ff1212"/><circle cx="139.62" cy="70.74" r="1.3" fill="#ff1212"/><circle cx="141.83" cy="66.92" r="1.3" fill="#ff1212"/><circle cx="144.04" cy="63.09" r="1.3" fill="#ff1212"/><circle cx="146.25" cy="59.26" r="1.3" fill="#ff1212"/><circle cx="148.46" cy="55.43" r="1.3" fill="#ff1212"/><circle cx="142.86" cy="73.98" r="1.3" fill="#ff1212"/><circle cx="146.68" cy="71.77" r="1.3" fill="#ff1212"/><circle cx="150.51" cy="69.56" r="1.3" fill="#ff1212"/><circle cx="154.34" cy="67.35" r="1.3" fill="#ff1212"/><circle cx="158.17" cy="65.14" r="1.3" fill="#ff1212"/><circle cx="144.04" cy="78.40" r="1.3" fill="#ff1212"/><circle cx="148.46" cy="78.40" r="1.3" fill="#1212ff"/><circle cx="152.88" cy="78.40" r="1.3" fill="#ff1212"/><circle cx="157.30" cy="78.40" r="1.3" fill="#ff1212"/><circle cx="161.72" cy="78.40" r="1.3" fill="#ff1212"/><circle cx="142.86" cy="82.82" r="1.3" fill="#ff1212"/><circle cx="146.68" cy="85.03" r="1.3" fill="#ff1212"/><circle cx="150.51" cy="87.24" r="1.3" fill="#ff1212"/><circle cx="154.34" cy="89.45" r="1.3" fill="#ff1212"/><circle cx="158.17" cy="91.66" r="1.3" fill="#ff1212"/><circle cx="139.62" cy="86.06" r="1.3" fill="#ff1212"/><circle cx="141.83" cy="89.88" r="1.3" fill="#ff1212"/><circle cx="144.04" cy="93.71" r="1.3" fill="#ff1212"/><circle cx="146.25" cy="97.54" r="1.3" fill="#ff1212"/><circle cx="148.46" cy="101.37" r="1.3" fill="#ff1212"/><circle cx="135.20" cy="87.24" r="1.3" fill="#ff1212"/><circle cx="135.20" cy="91.66" r="1.3" fill="#ff1212"/><circle cx="135.20" cy="96.08" r="1.3" fill="#ff1212"/><circle cx="135.20" cy="100.50" r="1.3" fill="#ff1212"/><circle cx="135.20" cy="104.92" r="1.3" fill="#ff1212"/><circle cx="130.78" cy="86.06" r="1.3" fill="#ff1212"/><circle cx="128.57" cy="89.88" r="1.3" fill="#ff1212"/><circle cx="126.36" cy="93.71" r="1.3" fill="#ff1212"/><circle cx="124.15" cy="97.54" r="1.3" fill="#ff1212"/><circle cx="121.94" cy="101.37" r="1.3" fill="#ff1212"/><circle cx="127.54" cy="82.82" r="1.3" fill="#ff1212"/><circle cx="123.72" cy="85.03" r="1.3" fill="#ff1212"/><circle cx="119.89" cy="87.24" r="1.3" fill="#ff1212"/><circle cx="116.06" cy="89.45" r="1.3" fill="#ff1212"/><circle cx="112.23" cy="91.66" r="1.3" fill="#ff1212"/><circle cx="126.36" cy="78.40" r="1.3" fill="#ff1212"/><circle cx="121.94" cy="78.40" r="1.3" fill="#ff1212"/><circle cx="117.52" cy="78.40" r="1.3" fill="#ff1212"/><circle cx="113.10" cy="78.40" r="1.3" fill="#ff1212"/><circle cx="108.68" cy="78.40" r="1.3" fill="#ff1212"/><circle cx="127.54" cy="73.98" r="1.3" fill="#ff1212"/><circle cx="123.72" cy="71.77" r="1.3" fill="#ff1212"/><circle cx="119.89" cy="69.56" r="1.3" fill="#ff1212"/><circle cx="116.06" cy="67.35" r="1.3" fill="#ff1212"/><circle cx="112.23" cy="65.14" r="1.3" fill="#ff1212"/><circle cx="130.78" cy="70.74" r="1.3" fill="#ff1212"/><circle cx="128.57" cy="66.92" r="1.3" fill="#ff1212"/><circle cx="126.36" cy="63.09" r="1.3" fill="#ff1212"/><circle cx="124.15" cy="59.26" r="1.3" fill="#ff1212"/><circle cx="121.94" cy="55.43" r="1.3" fill="#ff1212"/><circle cx="228.3" cy="78.4" r="4.2" fill="none" stroke="#ff1212" stroke-width="1.6"/><circle cx="228.3" cy="78.4" r="1.2" fill="#ff1212"/><circle cx="228.30" cy="74.20" r="1.05" fill="#ff1212"/><circle cx="229.91" cy="74.52" r="1.05" fill="#ff1212"/><circle cx="231.27" cy="75.43" r="1.05" fill="#ff1212"/><circle cx="232.18" cy="76.79" r="1.05" fill="#ff1212"/><circle cx="232.50" cy="78.40" r="1.05" fill="#ff1212"/><circle cx="232.18" cy="80.01" r="1.05" fill="#ff1212"/><circle cx="231.27" cy="81.37" r="1.05" fill="#ff1212"/><circle cx="229.91" cy="82.28" r="1.05" fill="#ff1212"/><circle cx="228.30" cy="82.60" r="1.05" fill="#ff1212"/><circle cx="226.69" cy="82.28" r="1.05" fill="#ff1212"/><circle cx="225.33" cy="81.37" r="1.05" fill="#ff1212"/><circle cx="224.42" cy="80.01" r="1.05" fill="#ff1212"/><circle cx="224.10" cy="78.40" r="1.05" fill="#ff1212"/><circle cx="224.42" cy="76.79" r="1.05" fill="#ff1212"/><circle cx="225.33" cy="75.43" r="1.05" fill="#ff1212"/><circle cx="226.69" cy="74.52" r="1.05" fill="#ff1212"/><circle cx="228.30" cy="69.56" r="1.3" fill="#ff1212"/><circle cx="228.30" cy="65.14" r="1.3" fill="#ff1212"/><circle cx="228.30" cy="60.72" r="1.3" fill="#ff1212"/><circle cx="228.30" cy="56.30" r="1.3" fill="#ff1212"/><circle cx="228.30" cy="51.88" r="1.3" fill="#1212ff"/><circle cx="232.72" cy="70.74" r="1.3" fill="#ff1212"/><circle cx="234.93" cy="66.92" r="1.3" fill="#ff1212"/><circle cx="237.14" cy="63.09" r="1.3" fill="#ff1212"/><circle cx="239.35" cy="59.26" r="1.3" fill="#ff1212"/><circle cx="241.56" cy="55.43" r="1.3" fill="#ff1212"/><circle cx="235.96" cy="73.98" r="1.3" fill="#ff1212"/><circle cx="239.78" cy="71.77" r="1.3" fill="#ff1212"/><circle cx="243.61" cy="69.56" r="1.3" fill="#ff1212"/><circle cx="247.44" cy="67.35" r="1.3" fill="#f2f000"/><circle cx="251.27" cy="65.14" r="1.3" fill="#f2f000"/><circle cx="237.14" cy="78.40" r="1.3" fill="#ff1212"/><circle cx="241.56" cy="78.40" r="1.3" fill="#1212ff"/><circle cx="245.98" cy="78.40" r="1.3" fill="#1212ff"/><circle cx="250.40" cy="78.40" r="1.3" fill="#1212ff"/><circle cx="254.82" cy="78.40" r="1.3" fill="#1212ff"/><circle cx="235.96" cy="82.82" r="1.3" fill="#ff1212"/><circle cx="239.78" cy="85.03" r="1.3" fill="#ff1212"/><circle cx="243.61" cy="87.24" r="1.3" fill="#f2f000"/><circle cx="247.44" cy="89.45" r="1.3" fill="#f2f000"/><circle cx="251.27" cy="91.66" r="1.3" fill="#f2f000"/><circle cx="232.72" cy="86.06" r="1.3" fill="#ff1212"/><circle cx="234.93" cy="89.88" r="1.3" fill="#ff1212"/><circle cx="237.14" cy="93.71" r="1.3" fill="#ff1212"/><circle cx="239.35" cy="97.54" r="1.3" fill="#ff1212"/><circle cx="241.56" cy="101.37" r="1.3" fill="#f2f000"/><circle cx="228.30" cy="87.24" r="1.3" fill="#ff1212"/><circle cx="228.30" cy="91.66" r="1.3" fill="#ff1212"/><circle cx="228.30" cy="96.08" r="1.3" fill="#ff1212"/><circle cx="228.30" cy="100.50" r="1.3" fill="#ff1212"/><circle cx="228.30" cy="104.92" r="1.3" fill="#ff1212"/><circle cx="223.88" cy="86.06" r="1.3" fill="#ff1212"/><circle cx="221.67" cy="89.88" r="1.3" fill="#ff1212"/><circle cx="219.46" cy="93.71" r="1.3" fill="#1212ff"/><circle cx="217.25" cy="97.54" r="1.3" fill="#1212ff"/><circle cx="215.04" cy="101.37" r="1.3" fill="#1212ff"/><circle cx="220.64" cy="82.82" r="1.3" fill="#1212ff"/><circle cx="216.82" cy="85.03" r="1.3" fill="#1212ff"/><circle cx="212.99" cy="87.24" r="1.3" fill="#1212ff"/><circle cx="209.16" cy="89.45" r="1.3" fill="#1212ff"/><circle cx="205.33" cy="91.66" r="1.3" fill="#1212ff"/><circle cx="219.46" cy="78.40" r="1.3" fill="#1212ff"/><circle cx="215.04" cy="78.40" r="1.3" fill="#1212ff"/><circle cx="210.62" cy="78.40" r="1.3" fill="#1212ff"/><circle cx="206.20" cy="78.40" r="1.3" fill="#1212ff"/><circle cx="201.78" cy="78.40" r="1.3" fill="#1212ff"/><circle cx="220.64" cy="73.98" r="1.3" fill="#1212ff"/><circle cx="216.82" cy="71.77" r="1.3" fill="#1212ff"/><circle cx="212.99" cy="69.56" r="1.3" fill="#1212ff"/><circle cx="209.16" cy="67.35" r="1.3" fill="#1212ff"/><circle cx="205.33" cy="65.14" r="1.3" fill="#1212ff"/><circle cx="223.88" cy="70.74" r="1.3" fill="#1212ff"/><circle cx="221.67" cy="66.92" r="1.3" fill="#1212ff"/><circle cx="219.46" cy="63.09" r="1.3" fill="#1212ff"/><circle cx="217.25" cy="59.26" r="1.3" fill="#1212ff"/><circle cx="215.04" cy="55.43" r="1.3" fill="#1212ff"/></svg></body></html>
